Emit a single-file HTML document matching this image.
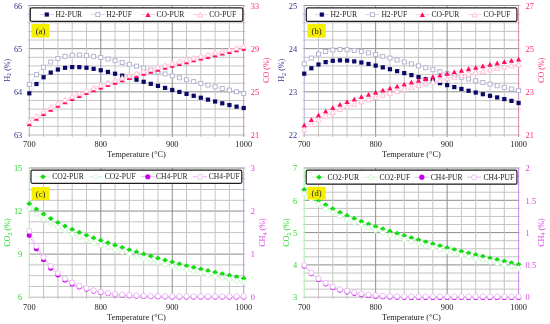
<!DOCTYPE html>
<html><head><meta charset="utf-8"><title>Temperature effect on syngas composition</title>
<style>
html,body{margin:0;padding:0;background:#fff;}
body{width:550px;height:324px;overflow:hidden;}
svg{display:block;filter:blur(0.25px);}
svg text{font-family:'Liberation Serif', 'Times New Roman', serif;}
</style></head>
<body>
<svg width="550" height="324" viewBox="0 0 550 324">
<rect width="550" height="324" fill="#fff"/>
<line x1="29.30" y1="5.50" x2="243.70" y2="5.50" stroke="#8c8c8c" stroke-width="1"/>
<line x1="29.30" y1="14.13" x2="243.70" y2="14.13" stroke="#c4c4c4" stroke-width="1"/>
<line x1="29.30" y1="22.77" x2="243.70" y2="22.77" stroke="#c4c4c4" stroke-width="1"/>
<line x1="29.30" y1="31.40" x2="243.70" y2="31.40" stroke="#c4c4c4" stroke-width="1"/>
<line x1="29.30" y1="40.03" x2="243.70" y2="40.03" stroke="#c4c4c4" stroke-width="1"/>
<line x1="29.30" y1="48.67" x2="243.70" y2="48.67" stroke="#8c8c8c" stroke-width="1"/>
<line x1="29.30" y1="57.30" x2="243.70" y2="57.30" stroke="#c4c4c4" stroke-width="1"/>
<line x1="29.30" y1="65.93" x2="243.70" y2="65.93" stroke="#c4c4c4" stroke-width="1"/>
<line x1="29.30" y1="74.57" x2="243.70" y2="74.57" stroke="#c4c4c4" stroke-width="1"/>
<line x1="29.30" y1="83.20" x2="243.70" y2="83.20" stroke="#c4c4c4" stroke-width="1"/>
<line x1="29.30" y1="91.83" x2="243.70" y2="91.83" stroke="#8c8c8c" stroke-width="1"/>
<line x1="29.30" y1="100.47" x2="243.70" y2="100.47" stroke="#c4c4c4" stroke-width="1"/>
<line x1="29.30" y1="109.10" x2="243.70" y2="109.10" stroke="#c4c4c4" stroke-width="1"/>
<line x1="29.30" y1="117.73" x2="243.70" y2="117.73" stroke="#c4c4c4" stroke-width="1"/>
<line x1="29.30" y1="126.37" x2="243.70" y2="126.37" stroke="#c4c4c4" stroke-width="1"/>
<line x1="43.59" y1="5.50" x2="43.59" y2="137.00" stroke="#c4c4c4" stroke-width="1"/>
<line x1="57.89" y1="5.50" x2="57.89" y2="137.00" stroke="#c4c4c4" stroke-width="1"/>
<line x1="72.18" y1="5.50" x2="72.18" y2="137.00" stroke="#c4c4c4" stroke-width="1"/>
<line x1="86.47" y1="5.50" x2="86.47" y2="137.00" stroke="#c4c4c4" stroke-width="1"/>
<line x1="100.77" y1="5.50" x2="100.77" y2="137.00" stroke="#8c8c8c" stroke-width="1"/>
<line x1="115.06" y1="5.50" x2="115.06" y2="137.00" stroke="#c4c4c4" stroke-width="1"/>
<line x1="129.35" y1="5.50" x2="129.35" y2="137.00" stroke="#c4c4c4" stroke-width="1"/>
<line x1="143.65" y1="5.50" x2="143.65" y2="137.00" stroke="#c4c4c4" stroke-width="1"/>
<line x1="157.94" y1="5.50" x2="157.94" y2="137.00" stroke="#c4c4c4" stroke-width="1"/>
<line x1="172.23" y1="5.50" x2="172.23" y2="137.00" stroke="#8c8c8c" stroke-width="1"/>
<line x1="186.53" y1="5.50" x2="186.53" y2="137.00" stroke="#c4c4c4" stroke-width="1"/>
<line x1="200.82" y1="5.50" x2="200.82" y2="137.00" stroke="#c4c4c4" stroke-width="1"/>
<line x1="215.11" y1="5.50" x2="215.11" y2="137.00" stroke="#c4c4c4" stroke-width="1"/>
<line x1="229.41" y1="5.50" x2="229.41" y2="137.00" stroke="#c4c4c4" stroke-width="1"/>
<line x1="28.80" y1="135.00" x2="244.20" y2="135.00" stroke="#b8b8b8" stroke-width="1"/>
<line x1="29.30" y1="5.00" x2="29.30" y2="137.00" stroke="#acacd2" stroke-width="1"/>
<line x1="243.70" y1="5.00" x2="243.70" y2="137.00" stroke="#d08ca8" stroke-width="1"/>
<line x1="27.30" y1="5.50" x2="29.30" y2="5.50" stroke="#acacd2" stroke-width="0.8" opacity="0.6"/>
<line x1="243.70" y1="5.50" x2="245.70" y2="5.50" stroke="#d08ca8" stroke-width="0.8" opacity="0.6"/>
<line x1="27.30" y1="14.13" x2="29.30" y2="14.13" stroke="#acacd2" stroke-width="0.8" opacity="0.6"/>
<line x1="243.70" y1="14.13" x2="245.70" y2="14.13" stroke="#d08ca8" stroke-width="0.8" opacity="0.6"/>
<line x1="27.30" y1="22.77" x2="29.30" y2="22.77" stroke="#acacd2" stroke-width="0.8" opacity="0.6"/>
<line x1="243.70" y1="22.77" x2="245.70" y2="22.77" stroke="#d08ca8" stroke-width="0.8" opacity="0.6"/>
<line x1="27.30" y1="31.40" x2="29.30" y2="31.40" stroke="#acacd2" stroke-width="0.8" opacity="0.6"/>
<line x1="243.70" y1="31.40" x2="245.70" y2="31.40" stroke="#d08ca8" stroke-width="0.8" opacity="0.6"/>
<line x1="27.30" y1="40.03" x2="29.30" y2="40.03" stroke="#acacd2" stroke-width="0.8" opacity="0.6"/>
<line x1="243.70" y1="40.03" x2="245.70" y2="40.03" stroke="#d08ca8" stroke-width="0.8" opacity="0.6"/>
<line x1="27.30" y1="48.67" x2="29.30" y2="48.67" stroke="#acacd2" stroke-width="0.8" opacity="0.6"/>
<line x1="243.70" y1="48.67" x2="245.70" y2="48.67" stroke="#d08ca8" stroke-width="0.8" opacity="0.6"/>
<line x1="27.30" y1="57.30" x2="29.30" y2="57.30" stroke="#acacd2" stroke-width="0.8" opacity="0.6"/>
<line x1="243.70" y1="57.30" x2="245.70" y2="57.30" stroke="#d08ca8" stroke-width="0.8" opacity="0.6"/>
<line x1="27.30" y1="65.93" x2="29.30" y2="65.93" stroke="#acacd2" stroke-width="0.8" opacity="0.6"/>
<line x1="243.70" y1="65.93" x2="245.70" y2="65.93" stroke="#d08ca8" stroke-width="0.8" opacity="0.6"/>
<line x1="27.30" y1="74.57" x2="29.30" y2="74.57" stroke="#acacd2" stroke-width="0.8" opacity="0.6"/>
<line x1="243.70" y1="74.57" x2="245.70" y2="74.57" stroke="#d08ca8" stroke-width="0.8" opacity="0.6"/>
<line x1="27.30" y1="83.20" x2="29.30" y2="83.20" stroke="#acacd2" stroke-width="0.8" opacity="0.6"/>
<line x1="243.70" y1="83.20" x2="245.70" y2="83.20" stroke="#d08ca8" stroke-width="0.8" opacity="0.6"/>
<line x1="27.30" y1="91.83" x2="29.30" y2="91.83" stroke="#acacd2" stroke-width="0.8" opacity="0.6"/>
<line x1="243.70" y1="91.83" x2="245.70" y2="91.83" stroke="#d08ca8" stroke-width="0.8" opacity="0.6"/>
<line x1="27.30" y1="100.47" x2="29.30" y2="100.47" stroke="#acacd2" stroke-width="0.8" opacity="0.6"/>
<line x1="243.70" y1="100.47" x2="245.70" y2="100.47" stroke="#d08ca8" stroke-width="0.8" opacity="0.6"/>
<line x1="27.30" y1="109.10" x2="29.30" y2="109.10" stroke="#acacd2" stroke-width="0.8" opacity="0.6"/>
<line x1="243.70" y1="109.10" x2="245.70" y2="109.10" stroke="#d08ca8" stroke-width="0.8" opacity="0.6"/>
<line x1="27.30" y1="117.73" x2="29.30" y2="117.73" stroke="#acacd2" stroke-width="0.8" opacity="0.6"/>
<line x1="243.70" y1="117.73" x2="245.70" y2="117.73" stroke="#d08ca8" stroke-width="0.8" opacity="0.6"/>
<line x1="27.30" y1="126.37" x2="29.30" y2="126.37" stroke="#acacd2" stroke-width="0.8" opacity="0.6"/>
<line x1="243.70" y1="126.37" x2="245.70" y2="126.37" stroke="#d08ca8" stroke-width="0.8" opacity="0.6"/>
<line x1="27.30" y1="135.00" x2="29.30" y2="135.00" stroke="#acacd2" stroke-width="0.8" opacity="0.6"/>
<line x1="243.70" y1="135.00" x2="245.70" y2="135.00" stroke="#d08ca8" stroke-width="0.8" opacity="0.6"/>
<polyline points="29.30,93.34 36.45,83.98 43.59,77.24 50.74,72.57 57.89,69.55 65.03,67.82 72.18,67.09 79.33,67.13 86.47,67.76 93.62,68.84 100.77,70.25 107.91,71.90 115.06,73.72 122.21,75.65 129.35,77.66 136.50,79.71 143.65,81.77 150.79,83.84 157.94,85.89 165.09,87.92 172.23,89.93 179.38,91.92 186.53,93.88 193.67,95.82 200.82,97.74 207.97,99.64 215.11,101.50 222.26,103.32 229.41,105.05 236.55,106.64 243.70,108.01" fill="none" stroke="#c8c8ec" stroke-width="0.6"/>
<rect x="27.20" y="91.24" width="4.2" height="4.2" fill="#0a0a66"/>
<rect x="34.35" y="81.88" width="4.2" height="4.2" fill="#0a0a66"/>
<rect x="41.49" y="75.14" width="4.2" height="4.2" fill="#0a0a66"/>
<rect x="48.64" y="70.47" width="4.2" height="4.2" fill="#0a0a66"/>
<rect x="55.79" y="67.45" width="4.2" height="4.2" fill="#0a0a66"/>
<rect x="62.93" y="65.72" width="4.2" height="4.2" fill="#0a0a66"/>
<rect x="70.08" y="64.99" width="4.2" height="4.2" fill="#0a0a66"/>
<rect x="77.23" y="65.03" width="4.2" height="4.2" fill="#0a0a66"/>
<rect x="84.37" y="65.66" width="4.2" height="4.2" fill="#0a0a66"/>
<rect x="91.52" y="66.74" width="4.2" height="4.2" fill="#0a0a66"/>
<rect x="98.67" y="68.15" width="4.2" height="4.2" fill="#0a0a66"/>
<rect x="105.81" y="69.80" width="4.2" height="4.2" fill="#0a0a66"/>
<rect x="112.96" y="71.62" width="4.2" height="4.2" fill="#0a0a66"/>
<rect x="120.11" y="73.55" width="4.2" height="4.2" fill="#0a0a66"/>
<rect x="127.25" y="75.56" width="4.2" height="4.2" fill="#0a0a66"/>
<rect x="134.40" y="77.61" width="4.2" height="4.2" fill="#0a0a66"/>
<rect x="141.55" y="79.67" width="4.2" height="4.2" fill="#0a0a66"/>
<rect x="148.69" y="81.74" width="4.2" height="4.2" fill="#0a0a66"/>
<rect x="155.84" y="83.79" width="4.2" height="4.2" fill="#0a0a66"/>
<rect x="162.99" y="85.82" width="4.2" height="4.2" fill="#0a0a66"/>
<rect x="170.13" y="87.83" width="4.2" height="4.2" fill="#0a0a66"/>
<rect x="177.28" y="89.82" width="4.2" height="4.2" fill="#0a0a66"/>
<rect x="184.43" y="91.78" width="4.2" height="4.2" fill="#0a0a66"/>
<rect x="191.57" y="93.72" width="4.2" height="4.2" fill="#0a0a66"/>
<rect x="198.72" y="95.64" width="4.2" height="4.2" fill="#0a0a66"/>
<rect x="205.87" y="97.54" width="4.2" height="4.2" fill="#0a0a66"/>
<rect x="213.01" y="99.40" width="4.2" height="4.2" fill="#0a0a66"/>
<rect x="220.16" y="101.22" width="4.2" height="4.2" fill="#0a0a66"/>
<rect x="227.31" y="102.95" width="4.2" height="4.2" fill="#0a0a66"/>
<rect x="234.45" y="104.54" width="4.2" height="4.2" fill="#0a0a66"/>
<rect x="241.60" y="105.91" width="4.2" height="4.2" fill="#0a0a66"/>
<polyline points="29.30,84.59 36.45,74.64 43.59,67.25 50.74,61.99 57.89,58.45 65.03,56.29 72.18,55.23 79.33,55.00 86.47,55.42 93.62,56.31 100.77,57.54 107.91,59.02 115.06,60.67 122.21,62.44 129.35,64.27 136.50,66.16 143.65,68.08 150.79,70.01 157.94,71.96 165.09,73.91 172.23,75.86 179.38,77.79 186.53,79.69 193.67,81.56 200.82,83.37 207.97,85.13 215.11,86.82 222.26,88.47 229.41,90.09 236.55,91.75 243.70,93.53" fill="none" stroke="#c8c8ec" stroke-width="0.6"/>
<rect x="27.30" y="82.59" width="4.0" height="4.0" fill="#fff" stroke="#b0b0cc" stroke-width="0.9"/>
<rect x="34.45" y="72.64" width="4.0" height="4.0" fill="#fff" stroke="#b0b0cc" stroke-width="0.9"/>
<rect x="41.59" y="65.25" width="4.0" height="4.0" fill="#fff" stroke="#b0b0cc" stroke-width="0.9"/>
<rect x="48.74" y="59.99" width="4.0" height="4.0" fill="#fff" stroke="#b0b0cc" stroke-width="0.9"/>
<rect x="55.89" y="56.45" width="4.0" height="4.0" fill="#fff" stroke="#b0b0cc" stroke-width="0.9"/>
<rect x="63.03" y="54.29" width="4.0" height="4.0" fill="#fff" stroke="#b0b0cc" stroke-width="0.9"/>
<rect x="70.18" y="53.23" width="4.0" height="4.0" fill="#fff" stroke="#b0b0cc" stroke-width="0.9"/>
<rect x="77.33" y="53.00" width="4.0" height="4.0" fill="#fff" stroke="#b0b0cc" stroke-width="0.9"/>
<rect x="84.47" y="53.42" width="4.0" height="4.0" fill="#fff" stroke="#b0b0cc" stroke-width="0.9"/>
<rect x="91.62" y="54.31" width="4.0" height="4.0" fill="#fff" stroke="#b0b0cc" stroke-width="0.9"/>
<rect x="98.77" y="55.54" width="4.0" height="4.0" fill="#fff" stroke="#b0b0cc" stroke-width="0.9"/>
<rect x="105.91" y="57.02" width="4.0" height="4.0" fill="#fff" stroke="#b0b0cc" stroke-width="0.9"/>
<rect x="113.06" y="58.67" width="4.0" height="4.0" fill="#fff" stroke="#b0b0cc" stroke-width="0.9"/>
<rect x="120.21" y="60.44" width="4.0" height="4.0" fill="#fff" stroke="#b0b0cc" stroke-width="0.9"/>
<rect x="127.35" y="62.27" width="4.0" height="4.0" fill="#fff" stroke="#b0b0cc" stroke-width="0.9"/>
<rect x="134.50" y="64.16" width="4.0" height="4.0" fill="#fff" stroke="#b0b0cc" stroke-width="0.9"/>
<rect x="141.65" y="66.08" width="4.0" height="4.0" fill="#fff" stroke="#b0b0cc" stroke-width="0.9"/>
<rect x="148.79" y="68.01" width="4.0" height="4.0" fill="#fff" stroke="#b0b0cc" stroke-width="0.9"/>
<rect x="155.94" y="69.96" width="4.0" height="4.0" fill="#fff" stroke="#b0b0cc" stroke-width="0.9"/>
<rect x="163.09" y="71.91" width="4.0" height="4.0" fill="#fff" stroke="#b0b0cc" stroke-width="0.9"/>
<rect x="170.23" y="73.86" width="4.0" height="4.0" fill="#fff" stroke="#b0b0cc" stroke-width="0.9"/>
<rect x="177.38" y="75.79" width="4.0" height="4.0" fill="#fff" stroke="#b0b0cc" stroke-width="0.9"/>
<rect x="184.53" y="77.69" width="4.0" height="4.0" fill="#fff" stroke="#b0b0cc" stroke-width="0.9"/>
<rect x="191.67" y="79.56" width="4.0" height="4.0" fill="#fff" stroke="#b0b0cc" stroke-width="0.9"/>
<rect x="198.82" y="81.37" width="4.0" height="4.0" fill="#fff" stroke="#b0b0cc" stroke-width="0.9"/>
<rect x="205.97" y="83.13" width="4.0" height="4.0" fill="#fff" stroke="#b0b0cc" stroke-width="0.9"/>
<rect x="213.11" y="84.82" width="4.0" height="4.0" fill="#fff" stroke="#b0b0cc" stroke-width="0.9"/>
<rect x="220.26" y="86.47" width="4.0" height="4.0" fill="#fff" stroke="#b0b0cc" stroke-width="0.9"/>
<rect x="227.41" y="88.09" width="4.0" height="4.0" fill="#fff" stroke="#b0b0cc" stroke-width="0.9"/>
<rect x="234.55" y="89.75" width="4.0" height="4.0" fill="#fff" stroke="#b0b0cc" stroke-width="0.9"/>
<rect x="241.70" y="91.53" width="4.0" height="4.0" fill="#fff" stroke="#b0b0cc" stroke-width="0.9"/>
<polyline points="29.30,123.57 36.45,118.23 43.59,113.51 50.74,109.27 57.89,105.42 65.03,101.88 72.18,98.59 79.33,95.51 86.47,92.60 93.62,89.84 100.77,87.21 107.91,84.69 115.06,82.27 122.21,79.94 129.35,77.69 136.50,75.51 143.65,73.40 150.79,71.34 157.94,69.33 165.09,67.38 172.23,65.46 179.38,63.59 186.53,61.75 193.67,59.96 200.82,58.20 207.97,56.49 215.11,54.82 222.26,53.18 229.41,51.57 236.55,49.97 243.70,48.35" fill="none" stroke="#ffc0d4" stroke-width="0.6"/>
<polygon points="29.30,121.17 31.90,125.97 26.70,125.97" fill="#ff0a64"/>
<polygon points="36.45,115.83 39.05,120.63 33.85,120.63" fill="#ff0a64"/>
<polygon points="43.59,111.11 46.19,115.91 40.99,115.91" fill="#ff0a64"/>
<polygon points="50.74,106.87 53.34,111.67 48.14,111.67" fill="#ff0a64"/>
<polygon points="57.89,103.02 60.49,107.82 55.29,107.82" fill="#ff0a64"/>
<polygon points="65.03,99.48 67.63,104.28 62.43,104.28" fill="#ff0a64"/>
<polygon points="72.18,96.19 74.78,100.99 69.58,100.99" fill="#ff0a64"/>
<polygon points="79.33,93.11 81.93,97.91 76.73,97.91" fill="#ff0a64"/>
<polygon points="86.47,90.20 89.07,95.00 83.87,95.00" fill="#ff0a64"/>
<polygon points="93.62,87.44 96.22,92.24 91.02,92.24" fill="#ff0a64"/>
<polygon points="100.77,84.81 103.37,89.61 98.17,89.61" fill="#ff0a64"/>
<polygon points="107.91,82.29 110.51,87.09 105.31,87.09" fill="#ff0a64"/>
<polygon points="115.06,79.87 117.66,84.67 112.46,84.67" fill="#ff0a64"/>
<polygon points="122.21,77.54 124.81,82.34 119.61,82.34" fill="#ff0a64"/>
<polygon points="129.35,75.29 131.95,80.09 126.75,80.09" fill="#ff0a64"/>
<polygon points="136.50,73.11 139.10,77.91 133.90,77.91" fill="#ff0a64"/>
<polygon points="143.65,71.00 146.25,75.80 141.05,75.80" fill="#ff0a64"/>
<polygon points="150.79,68.94 153.39,73.74 148.19,73.74" fill="#ff0a64"/>
<polygon points="157.94,66.93 160.54,71.73 155.34,71.73" fill="#ff0a64"/>
<polygon points="165.09,64.98 167.69,69.78 162.49,69.78" fill="#ff0a64"/>
<polygon points="172.23,63.06 174.83,67.86 169.63,67.86" fill="#ff0a64"/>
<polygon points="179.38,61.19 181.98,65.99 176.78,65.99" fill="#ff0a64"/>
<polygon points="186.53,59.35 189.13,64.15 183.93,64.15" fill="#ff0a64"/>
<polygon points="193.67,57.56 196.27,62.36 191.07,62.36" fill="#ff0a64"/>
<polygon points="200.82,55.80 203.42,60.60 198.22,60.60" fill="#ff0a64"/>
<polygon points="207.97,54.09 210.57,58.89 205.37,58.89" fill="#ff0a64"/>
<polygon points="215.11,52.42 217.71,57.22 212.51,57.22" fill="#ff0a64"/>
<polygon points="222.26,50.78 224.86,55.58 219.66,55.58" fill="#ff0a64"/>
<polygon points="229.41,49.17 232.01,53.97 226.81,53.97" fill="#ff0a64"/>
<polygon points="236.55,47.57 239.15,52.37 233.95,52.37" fill="#ff0a64"/>
<polygon points="243.70,45.95 246.30,50.75 241.10,50.75" fill="#ff0a64"/>
<polyline points="29.30,121.37 36.45,116.03 43.59,111.31 50.74,107.07 57.89,103.22 65.03,99.68 72.18,96.39 79.33,93.31 86.47,90.40 93.62,87.64 100.77,85.01 107.91,82.49 115.06,80.07 122.21,77.74 129.35,75.49 136.50,73.31 143.65,71.20 150.79,69.14 157.94,67.13 165.09,65.18 172.23,63.26 179.38,61.39 186.53,59.55 193.67,57.76 200.82,56.00 207.97,54.29 215.11,52.62 222.26,50.98 229.41,49.37 236.55,47.77 243.70,46.15" fill="none" stroke="#ffc0d4" stroke-width="0.6"/>
<polygon points="29.30,118.97 31.90,123.77 26.70,123.77" fill="#fff" stroke="#ffbcd2" stroke-width="0.9"/>
<polygon points="36.45,113.63 39.05,118.43 33.85,118.43" fill="#fff" stroke="#ffbcd2" stroke-width="0.9"/>
<polygon points="43.59,108.91 46.19,113.71 40.99,113.71" fill="#fff" stroke="#ffbcd2" stroke-width="0.9"/>
<polygon points="50.74,104.67 53.34,109.47 48.14,109.47" fill="#fff" stroke="#ffbcd2" stroke-width="0.9"/>
<polygon points="57.89,100.82 60.49,105.62 55.29,105.62" fill="#fff" stroke="#ffbcd2" stroke-width="0.9"/>
<polygon points="65.03,97.28 67.63,102.08 62.43,102.08" fill="#fff" stroke="#ffbcd2" stroke-width="0.9"/>
<polygon points="72.18,93.99 74.78,98.79 69.58,98.79" fill="#fff" stroke="#ffbcd2" stroke-width="0.9"/>
<polygon points="79.33,90.91 81.93,95.71 76.73,95.71" fill="#fff" stroke="#ffbcd2" stroke-width="0.9"/>
<polygon points="86.47,88.00 89.07,92.80 83.87,92.80" fill="#fff" stroke="#ffbcd2" stroke-width="0.9"/>
<polygon points="93.62,85.24 96.22,90.04 91.02,90.04" fill="#fff" stroke="#ffbcd2" stroke-width="0.9"/>
<polygon points="100.77,82.61 103.37,87.41 98.17,87.41" fill="#fff" stroke="#ffbcd2" stroke-width="0.9"/>
<polygon points="107.91,80.09 110.51,84.89 105.31,84.89" fill="#fff" stroke="#ffbcd2" stroke-width="0.9"/>
<polygon points="115.06,77.67 117.66,82.47 112.46,82.47" fill="#fff" stroke="#ffbcd2" stroke-width="0.9"/>
<polygon points="122.21,75.34 124.81,80.14 119.61,80.14" fill="#fff" stroke="#ffbcd2" stroke-width="0.9"/>
<polygon points="129.35,73.09 131.95,77.89 126.75,77.89" fill="#fff" stroke="#ffbcd2" stroke-width="0.9"/>
<polygon points="136.50,70.91 139.10,75.71 133.90,75.71" fill="#fff" stroke="#ffbcd2" stroke-width="0.9"/>
<polygon points="143.65,68.80 146.25,73.60 141.05,73.60" fill="#fff" stroke="#ffbcd2" stroke-width="0.9"/>
<polygon points="150.79,66.74 153.39,71.54 148.19,71.54" fill="#fff" stroke="#ffbcd2" stroke-width="0.9"/>
<polygon points="157.94,64.73 160.54,69.53 155.34,69.53" fill="#fff" stroke="#ffbcd2" stroke-width="0.9"/>
<polygon points="165.09,62.78 167.69,67.58 162.49,67.58" fill="#fff" stroke="#ffbcd2" stroke-width="0.9"/>
<polygon points="172.23,60.86 174.83,65.66 169.63,65.66" fill="#fff" stroke="#ffbcd2" stroke-width="0.9"/>
<polygon points="179.38,58.99 181.98,63.79 176.78,63.79" fill="#fff" stroke="#ffbcd2" stroke-width="0.9"/>
<polygon points="186.53,57.15 189.13,61.95 183.93,61.95" fill="#fff" stroke="#ffbcd2" stroke-width="0.9"/>
<polygon points="193.67,55.36 196.27,60.16 191.07,60.16" fill="#fff" stroke="#ffbcd2" stroke-width="0.9"/>
<polygon points="200.82,53.60 203.42,58.40 198.22,58.40" fill="#fff" stroke="#ffbcd2" stroke-width="0.9"/>
<polygon points="207.97,51.89 210.57,56.69 205.37,56.69" fill="#fff" stroke="#ffbcd2" stroke-width="0.9"/>
<polygon points="215.11,50.22 217.71,55.02 212.51,55.02" fill="#fff" stroke="#ffbcd2" stroke-width="0.9"/>
<polygon points="222.26,48.58 224.86,53.38 219.66,53.38" fill="#fff" stroke="#ffbcd2" stroke-width="0.9"/>
<polygon points="229.41,46.97 232.01,51.77 226.81,51.77" fill="#fff" stroke="#ffbcd2" stroke-width="0.9"/>
<polygon points="236.55,45.37 239.15,50.17 233.95,50.17" fill="#fff" stroke="#ffbcd2" stroke-width="0.9"/>
<polygon points="243.70,43.75 246.30,48.55 241.10,48.55" fill="#fff" stroke="#ffbcd2" stroke-width="0.9"/>
<text x="29.30" y="147.20" text-anchor="middle" fill="#222222" font-size="8.4">700</text>
<text x="100.77" y="147.20" text-anchor="middle" fill="#222222" font-size="8.4">800</text>
<text x="172.23" y="147.20" text-anchor="middle" fill="#222222" font-size="8.4">900</text>
<text x="243.70" y="147.20" text-anchor="middle" fill="#222222" font-size="8.4">1000</text>
<text x="136.50" y="157.00" text-anchor="middle" fill="#222222" font-size="8.4">Temperature (°C)</text>
<text x="22.30" y="138.20" text-anchor="end" fill="#34348f" font-size="8.4">63</text>
<text x="22.30" y="95.03" text-anchor="end" fill="#34348f" font-size="8.4">64</text>
<text x="22.30" y="51.87" text-anchor="end" fill="#34348f" font-size="8.4">65</text>
<text x="22.30" y="8.70" text-anchor="end" fill="#34348f" font-size="8.4">66</text>
<text x="250.70" y="138.20" text-anchor="start" fill="#ff2a78" font-size="8.4">21</text>
<text x="250.70" y="95.03" text-anchor="start" fill="#ff2a78" font-size="8.4">25</text>
<text x="250.70" y="51.87" text-anchor="start" fill="#ff2a78" font-size="8.4">29</text>
<text x="250.70" y="8.70" text-anchor="start" fill="#ff2a78" font-size="8.4">33</text>
<text transform="translate(9.80,70.25) rotate(-90)" text-anchor="middle" fill="#34348f" font-size="8.1">H<tspan font-size="6" dy="1.5">2</tspan><tspan dy="-1.5"> (%)</tspan></text>
<text transform="translate(268.90,70.25) rotate(-90)" text-anchor="middle" fill="#ff2a78" font-size="8.1">CO (%)</text>
<rect x="30.30" y="7.80" width="212.50" height="13.50" rx="1.5" fill="#fff" stroke="#1e1e1e" stroke-width="1.2"/>
<line x1="39.80" y1="14.55" x2="53.80" y2="14.55" stroke="#c8c8ec" stroke-width="0.8"/>
<rect x="44.70" y="12.45" width="4.2" height="4.2" fill="#0a0a66"/>
<text x="55.60" y="17.15" fill="#222222" font-size="7.6">H2-PUR</text>
<line x1="90.80" y1="14.55" x2="104.80" y2="14.55" stroke="#c8c8ec" stroke-width="0.8"/>
<rect x="95.80" y="12.55" width="4.0" height="4.0" fill="#fff" stroke="#b0b0cc" stroke-width="0.9"/>
<text x="106.30" y="17.15" fill="#222222" font-size="7.6">H2-PUF</text>
<line x1="141.00" y1="14.55" x2="155.00" y2="14.55" stroke="#ffc0d4" stroke-width="0.8"/>
<polygon points="148.00,12.15 150.60,16.95 145.40,16.95" fill="#ff0a64"/>
<text x="156.50" y="17.15" fill="#222222" font-size="7.6">CO-PUR</text>
<line x1="193.20" y1="14.55" x2="207.20" y2="14.55" stroke="#ffc0d4" stroke-width="0.8"/>
<polygon points="200.20,12.15 202.80,16.95 197.60,16.95" fill="#fff" stroke="#ffbcd2" stroke-width="0.9"/>
<text x="209.20" y="17.15" fill="#222222" font-size="7.6">CO-PUF</text>
<rect x="31.40" y="24.00" width="18.20" height="13.60" fill="#f6f000"/>
<text x="40.50" y="33.80" text-anchor="middle" fill="#222222" font-size="8.6">(a)</text>
<line x1="304.20" y1="5.50" x2="518.60" y2="5.50" stroke="#8c8c8c" stroke-width="1"/>
<line x1="304.20" y1="14.13" x2="518.60" y2="14.13" stroke="#c4c4c4" stroke-width="1"/>
<line x1="304.20" y1="22.77" x2="518.60" y2="22.77" stroke="#c4c4c4" stroke-width="1"/>
<line x1="304.20" y1="31.40" x2="518.60" y2="31.40" stroke="#c4c4c4" stroke-width="1"/>
<line x1="304.20" y1="40.03" x2="518.60" y2="40.03" stroke="#c4c4c4" stroke-width="1"/>
<line x1="304.20" y1="48.67" x2="518.60" y2="48.67" stroke="#8c8c8c" stroke-width="1"/>
<line x1="304.20" y1="57.30" x2="518.60" y2="57.30" stroke="#c4c4c4" stroke-width="1"/>
<line x1="304.20" y1="65.93" x2="518.60" y2="65.93" stroke="#c4c4c4" stroke-width="1"/>
<line x1="304.20" y1="74.57" x2="518.60" y2="74.57" stroke="#c4c4c4" stroke-width="1"/>
<line x1="304.20" y1="83.20" x2="518.60" y2="83.20" stroke="#c4c4c4" stroke-width="1"/>
<line x1="304.20" y1="91.83" x2="518.60" y2="91.83" stroke="#8c8c8c" stroke-width="1"/>
<line x1="304.20" y1="100.47" x2="518.60" y2="100.47" stroke="#c4c4c4" stroke-width="1"/>
<line x1="304.20" y1="109.10" x2="518.60" y2="109.10" stroke="#c4c4c4" stroke-width="1"/>
<line x1="304.20" y1="117.73" x2="518.60" y2="117.73" stroke="#c4c4c4" stroke-width="1"/>
<line x1="304.20" y1="126.37" x2="518.60" y2="126.37" stroke="#c4c4c4" stroke-width="1"/>
<line x1="318.49" y1="5.50" x2="318.49" y2="137.00" stroke="#c4c4c4" stroke-width="1"/>
<line x1="332.79" y1="5.50" x2="332.79" y2="137.00" stroke="#c4c4c4" stroke-width="1"/>
<line x1="347.08" y1="5.50" x2="347.08" y2="137.00" stroke="#c4c4c4" stroke-width="1"/>
<line x1="361.37" y1="5.50" x2="361.37" y2="137.00" stroke="#c4c4c4" stroke-width="1"/>
<line x1="375.67" y1="5.50" x2="375.67" y2="137.00" stroke="#8c8c8c" stroke-width="1"/>
<line x1="389.96" y1="5.50" x2="389.96" y2="137.00" stroke="#c4c4c4" stroke-width="1"/>
<line x1="404.25" y1="5.50" x2="404.25" y2="137.00" stroke="#c4c4c4" stroke-width="1"/>
<line x1="418.55" y1="5.50" x2="418.55" y2="137.00" stroke="#c4c4c4" stroke-width="1"/>
<line x1="432.84" y1="5.50" x2="432.84" y2="137.00" stroke="#c4c4c4" stroke-width="1"/>
<line x1="447.13" y1="5.50" x2="447.13" y2="137.00" stroke="#8c8c8c" stroke-width="1"/>
<line x1="461.43" y1="5.50" x2="461.43" y2="137.00" stroke="#c4c4c4" stroke-width="1"/>
<line x1="475.72" y1="5.50" x2="475.72" y2="137.00" stroke="#c4c4c4" stroke-width="1"/>
<line x1="490.01" y1="5.50" x2="490.01" y2="137.00" stroke="#c4c4c4" stroke-width="1"/>
<line x1="504.31" y1="5.50" x2="504.31" y2="137.00" stroke="#c4c4c4" stroke-width="1"/>
<line x1="303.70" y1="135.00" x2="519.10" y2="135.00" stroke="#b8b8b8" stroke-width="1"/>
<line x1="304.20" y1="5.00" x2="304.20" y2="137.00" stroke="#acacd2" stroke-width="1"/>
<line x1="518.60" y1="5.00" x2="518.60" y2="137.00" stroke="#d08ca8" stroke-width="1"/>
<line x1="302.20" y1="5.50" x2="304.20" y2="5.50" stroke="#acacd2" stroke-width="0.8" opacity="0.6"/>
<line x1="518.60" y1="5.50" x2="520.60" y2="5.50" stroke="#d08ca8" stroke-width="0.8" opacity="0.6"/>
<line x1="302.20" y1="14.13" x2="304.20" y2="14.13" stroke="#acacd2" stroke-width="0.8" opacity="0.6"/>
<line x1="518.60" y1="14.13" x2="520.60" y2="14.13" stroke="#d08ca8" stroke-width="0.8" opacity="0.6"/>
<line x1="302.20" y1="22.77" x2="304.20" y2="22.77" stroke="#acacd2" stroke-width="0.8" opacity="0.6"/>
<line x1="518.60" y1="22.77" x2="520.60" y2="22.77" stroke="#d08ca8" stroke-width="0.8" opacity="0.6"/>
<line x1="302.20" y1="31.40" x2="304.20" y2="31.40" stroke="#acacd2" stroke-width="0.8" opacity="0.6"/>
<line x1="518.60" y1="31.40" x2="520.60" y2="31.40" stroke="#d08ca8" stroke-width="0.8" opacity="0.6"/>
<line x1="302.20" y1="40.03" x2="304.20" y2="40.03" stroke="#acacd2" stroke-width="0.8" opacity="0.6"/>
<line x1="518.60" y1="40.03" x2="520.60" y2="40.03" stroke="#d08ca8" stroke-width="0.8" opacity="0.6"/>
<line x1="302.20" y1="48.67" x2="304.20" y2="48.67" stroke="#acacd2" stroke-width="0.8" opacity="0.6"/>
<line x1="518.60" y1="48.67" x2="520.60" y2="48.67" stroke="#d08ca8" stroke-width="0.8" opacity="0.6"/>
<line x1="302.20" y1="57.30" x2="304.20" y2="57.30" stroke="#acacd2" stroke-width="0.8" opacity="0.6"/>
<line x1="518.60" y1="57.30" x2="520.60" y2="57.30" stroke="#d08ca8" stroke-width="0.8" opacity="0.6"/>
<line x1="302.20" y1="65.93" x2="304.20" y2="65.93" stroke="#acacd2" stroke-width="0.8" opacity="0.6"/>
<line x1="518.60" y1="65.93" x2="520.60" y2="65.93" stroke="#d08ca8" stroke-width="0.8" opacity="0.6"/>
<line x1="302.20" y1="74.57" x2="304.20" y2="74.57" stroke="#acacd2" stroke-width="0.8" opacity="0.6"/>
<line x1="518.60" y1="74.57" x2="520.60" y2="74.57" stroke="#d08ca8" stroke-width="0.8" opacity="0.6"/>
<line x1="302.20" y1="83.20" x2="304.20" y2="83.20" stroke="#acacd2" stroke-width="0.8" opacity="0.6"/>
<line x1="518.60" y1="83.20" x2="520.60" y2="83.20" stroke="#d08ca8" stroke-width="0.8" opacity="0.6"/>
<line x1="302.20" y1="91.83" x2="304.20" y2="91.83" stroke="#acacd2" stroke-width="0.8" opacity="0.6"/>
<line x1="518.60" y1="91.83" x2="520.60" y2="91.83" stroke="#d08ca8" stroke-width="0.8" opacity="0.6"/>
<line x1="302.20" y1="100.47" x2="304.20" y2="100.47" stroke="#acacd2" stroke-width="0.8" opacity="0.6"/>
<line x1="518.60" y1="100.47" x2="520.60" y2="100.47" stroke="#d08ca8" stroke-width="0.8" opacity="0.6"/>
<line x1="302.20" y1="109.10" x2="304.20" y2="109.10" stroke="#acacd2" stroke-width="0.8" opacity="0.6"/>
<line x1="518.60" y1="109.10" x2="520.60" y2="109.10" stroke="#d08ca8" stroke-width="0.8" opacity="0.6"/>
<line x1="302.20" y1="117.73" x2="304.20" y2="117.73" stroke="#acacd2" stroke-width="0.8" opacity="0.6"/>
<line x1="518.60" y1="117.73" x2="520.60" y2="117.73" stroke="#d08ca8" stroke-width="0.8" opacity="0.6"/>
<line x1="302.20" y1="126.37" x2="304.20" y2="126.37" stroke="#acacd2" stroke-width="0.8" opacity="0.6"/>
<line x1="518.60" y1="126.37" x2="520.60" y2="126.37" stroke="#d08ca8" stroke-width="0.8" opacity="0.6"/>
<line x1="302.20" y1="135.00" x2="304.20" y2="135.00" stroke="#acacd2" stroke-width="0.8" opacity="0.6"/>
<line x1="518.60" y1="135.00" x2="520.60" y2="135.00" stroke="#d08ca8" stroke-width="0.8" opacity="0.6"/>
<polyline points="304.20,73.66 311.35,68.26 318.49,64.50 325.64,62.10 332.79,60.79 339.93,60.35 347.08,60.60 354.23,61.36 361.37,62.51 368.52,63.95 375.67,65.58 382.81,67.36 389.96,69.22 397.11,71.15 404.25,73.11 411.40,75.10 418.55,77.11 425.69,79.12 432.84,81.14 439.99,83.14 447.13,85.12 454.28,87.06 461.43,88.95 468.57,90.77 475.72,92.52 482.87,94.20 490.01,95.82 497.16,97.42 504.31,99.08 511.45,100.89 518.60,103.04" fill="none" stroke="#c8c8ec" stroke-width="0.6"/>
<rect x="302.10" y="71.56" width="4.2" height="4.2" fill="#0a0a66"/>
<rect x="309.25" y="66.16" width="4.2" height="4.2" fill="#0a0a66"/>
<rect x="316.39" y="62.40" width="4.2" height="4.2" fill="#0a0a66"/>
<rect x="323.54" y="60.00" width="4.2" height="4.2" fill="#0a0a66"/>
<rect x="330.69" y="58.69" width="4.2" height="4.2" fill="#0a0a66"/>
<rect x="337.83" y="58.25" width="4.2" height="4.2" fill="#0a0a66"/>
<rect x="344.98" y="58.50" width="4.2" height="4.2" fill="#0a0a66"/>
<rect x="352.13" y="59.26" width="4.2" height="4.2" fill="#0a0a66"/>
<rect x="359.27" y="60.41" width="4.2" height="4.2" fill="#0a0a66"/>
<rect x="366.42" y="61.85" width="4.2" height="4.2" fill="#0a0a66"/>
<rect x="373.57" y="63.48" width="4.2" height="4.2" fill="#0a0a66"/>
<rect x="380.71" y="65.26" width="4.2" height="4.2" fill="#0a0a66"/>
<rect x="387.86" y="67.12" width="4.2" height="4.2" fill="#0a0a66"/>
<rect x="395.01" y="69.05" width="4.2" height="4.2" fill="#0a0a66"/>
<rect x="402.15" y="71.01" width="4.2" height="4.2" fill="#0a0a66"/>
<rect x="409.30" y="73.00" width="4.2" height="4.2" fill="#0a0a66"/>
<rect x="416.45" y="75.01" width="4.2" height="4.2" fill="#0a0a66"/>
<rect x="423.59" y="77.02" width="4.2" height="4.2" fill="#0a0a66"/>
<rect x="430.74" y="79.04" width="4.2" height="4.2" fill="#0a0a66"/>
<rect x="437.89" y="81.04" width="4.2" height="4.2" fill="#0a0a66"/>
<rect x="445.03" y="83.02" width="4.2" height="4.2" fill="#0a0a66"/>
<rect x="452.18" y="84.96" width="4.2" height="4.2" fill="#0a0a66"/>
<rect x="459.33" y="86.85" width="4.2" height="4.2" fill="#0a0a66"/>
<rect x="466.47" y="88.67" width="4.2" height="4.2" fill="#0a0a66"/>
<rect x="473.62" y="90.42" width="4.2" height="4.2" fill="#0a0a66"/>
<rect x="480.77" y="92.10" width="4.2" height="4.2" fill="#0a0a66"/>
<rect x="487.91" y="93.72" width="4.2" height="4.2" fill="#0a0a66"/>
<rect x="495.06" y="95.32" width="4.2" height="4.2" fill="#0a0a66"/>
<rect x="502.21" y="96.98" width="4.2" height="4.2" fill="#0a0a66"/>
<rect x="509.35" y="98.79" width="4.2" height="4.2" fill="#0a0a66"/>
<rect x="516.50" y="100.94" width="4.2" height="4.2" fill="#0a0a66"/>
<polyline points="304.20,63.87 311.35,58.07 318.49,54.06 325.64,51.49 332.79,50.06 339.93,49.54 347.08,49.71 354.23,50.41 361.37,51.51 368.52,52.90 375.67,54.50 382.81,56.24 389.96,58.08 397.11,59.98 404.25,61.92 411.40,63.87 418.55,65.83 425.69,67.78 432.84,69.73 439.99,71.65 447.13,73.56 454.28,75.43 461.43,77.27 468.57,79.06 475.72,80.80 482.87,82.50 490.01,84.15 497.16,85.76 504.31,87.36 511.45,88.97 518.60,90.64" fill="none" stroke="#c8c8ec" stroke-width="0.6"/>
<rect x="302.20" y="61.87" width="4.0" height="4.0" fill="#fff" stroke="#b0b0cc" stroke-width="0.9"/>
<rect x="309.35" y="56.07" width="4.0" height="4.0" fill="#fff" stroke="#b0b0cc" stroke-width="0.9"/>
<rect x="316.49" y="52.06" width="4.0" height="4.0" fill="#fff" stroke="#b0b0cc" stroke-width="0.9"/>
<rect x="323.64" y="49.49" width="4.0" height="4.0" fill="#fff" stroke="#b0b0cc" stroke-width="0.9"/>
<rect x="330.79" y="48.06" width="4.0" height="4.0" fill="#fff" stroke="#b0b0cc" stroke-width="0.9"/>
<rect x="337.93" y="47.54" width="4.0" height="4.0" fill="#fff" stroke="#b0b0cc" stroke-width="0.9"/>
<rect x="345.08" y="47.71" width="4.0" height="4.0" fill="#fff" stroke="#b0b0cc" stroke-width="0.9"/>
<rect x="352.23" y="48.41" width="4.0" height="4.0" fill="#fff" stroke="#b0b0cc" stroke-width="0.9"/>
<rect x="359.37" y="49.51" width="4.0" height="4.0" fill="#fff" stroke="#b0b0cc" stroke-width="0.9"/>
<rect x="366.52" y="50.90" width="4.0" height="4.0" fill="#fff" stroke="#b0b0cc" stroke-width="0.9"/>
<rect x="373.67" y="52.50" width="4.0" height="4.0" fill="#fff" stroke="#b0b0cc" stroke-width="0.9"/>
<rect x="380.81" y="54.24" width="4.0" height="4.0" fill="#fff" stroke="#b0b0cc" stroke-width="0.9"/>
<rect x="387.96" y="56.08" width="4.0" height="4.0" fill="#fff" stroke="#b0b0cc" stroke-width="0.9"/>
<rect x="395.11" y="57.98" width="4.0" height="4.0" fill="#fff" stroke="#b0b0cc" stroke-width="0.9"/>
<rect x="402.25" y="59.92" width="4.0" height="4.0" fill="#fff" stroke="#b0b0cc" stroke-width="0.9"/>
<rect x="409.40" y="61.87" width="4.0" height="4.0" fill="#fff" stroke="#b0b0cc" stroke-width="0.9"/>
<rect x="416.55" y="63.83" width="4.0" height="4.0" fill="#fff" stroke="#b0b0cc" stroke-width="0.9"/>
<rect x="423.69" y="65.78" width="4.0" height="4.0" fill="#fff" stroke="#b0b0cc" stroke-width="0.9"/>
<rect x="430.84" y="67.73" width="4.0" height="4.0" fill="#fff" stroke="#b0b0cc" stroke-width="0.9"/>
<rect x="437.99" y="69.65" width="4.0" height="4.0" fill="#fff" stroke="#b0b0cc" stroke-width="0.9"/>
<rect x="445.13" y="71.56" width="4.0" height="4.0" fill="#fff" stroke="#b0b0cc" stroke-width="0.9"/>
<rect x="452.28" y="73.43" width="4.0" height="4.0" fill="#fff" stroke="#b0b0cc" stroke-width="0.9"/>
<rect x="459.43" y="75.27" width="4.0" height="4.0" fill="#fff" stroke="#b0b0cc" stroke-width="0.9"/>
<rect x="466.57" y="77.06" width="4.0" height="4.0" fill="#fff" stroke="#b0b0cc" stroke-width="0.9"/>
<rect x="473.72" y="78.80" width="4.0" height="4.0" fill="#fff" stroke="#b0b0cc" stroke-width="0.9"/>
<rect x="480.87" y="80.50" width="4.0" height="4.0" fill="#fff" stroke="#b0b0cc" stroke-width="0.9"/>
<rect x="488.01" y="82.15" width="4.0" height="4.0" fill="#fff" stroke="#b0b0cc" stroke-width="0.9"/>
<rect x="495.16" y="83.76" width="4.0" height="4.0" fill="#fff" stroke="#b0b0cc" stroke-width="0.9"/>
<rect x="502.31" y="85.36" width="4.0" height="4.0" fill="#fff" stroke="#b0b0cc" stroke-width="0.9"/>
<rect x="509.45" y="86.97" width="4.0" height="4.0" fill="#fff" stroke="#b0b0cc" stroke-width="0.9"/>
<rect x="516.60" y="88.64" width="4.0" height="4.0" fill="#fff" stroke="#b0b0cc" stroke-width="0.9"/>
<polyline points="304.20,124.99 311.35,119.62 318.49,115.02 325.64,111.04 332.79,107.56 339.93,104.47 347.08,101.67 354.23,99.11 361.37,96.71 368.52,94.43 375.67,92.24 382.81,90.12 389.96,88.06 397.11,86.04 404.25,84.08 411.40,82.16 418.55,80.29 425.69,78.48 432.84,76.72 439.99,75.03 447.13,73.39 454.28,71.81 461.43,70.27 468.57,68.77 475.72,67.30 482.87,65.85 490.01,64.42 497.16,63.01 504.31,61.62 511.45,60.29 518.60,59.05" fill="none" stroke="#ffc0d4" stroke-width="0.6"/>
<polygon points="304.20,122.59 306.80,127.39 301.60,127.39" fill="#ff0a64"/>
<polygon points="311.35,117.22 313.95,122.02 308.75,122.02" fill="#ff0a64"/>
<polygon points="318.49,112.62 321.09,117.42 315.89,117.42" fill="#ff0a64"/>
<polygon points="325.64,108.64 328.24,113.44 323.04,113.44" fill="#ff0a64"/>
<polygon points="332.79,105.16 335.39,109.96 330.19,109.96" fill="#ff0a64"/>
<polygon points="339.93,102.07 342.53,106.87 337.33,106.87" fill="#ff0a64"/>
<polygon points="347.08,99.27 349.68,104.07 344.48,104.07" fill="#ff0a64"/>
<polygon points="354.23,96.71 356.83,101.51 351.63,101.51" fill="#ff0a64"/>
<polygon points="361.37,94.31 363.97,99.11 358.77,99.11" fill="#ff0a64"/>
<polygon points="368.52,92.03 371.12,96.83 365.92,96.83" fill="#ff0a64"/>
<polygon points="375.67,89.84 378.27,94.64 373.07,94.64" fill="#ff0a64"/>
<polygon points="382.81,87.72 385.41,92.52 380.21,92.52" fill="#ff0a64"/>
<polygon points="389.96,85.66 392.56,90.46 387.36,90.46" fill="#ff0a64"/>
<polygon points="397.11,83.64 399.71,88.44 394.51,88.44" fill="#ff0a64"/>
<polygon points="404.25,81.68 406.85,86.48 401.65,86.48" fill="#ff0a64"/>
<polygon points="411.40,79.76 414.00,84.56 408.80,84.56" fill="#ff0a64"/>
<polygon points="418.55,77.89 421.15,82.69 415.95,82.69" fill="#ff0a64"/>
<polygon points="425.69,76.08 428.29,80.88 423.09,80.88" fill="#ff0a64"/>
<polygon points="432.84,74.32 435.44,79.12 430.24,79.12" fill="#ff0a64"/>
<polygon points="439.99,72.63 442.59,77.43 437.39,77.43" fill="#ff0a64"/>
<polygon points="447.13,70.99 449.73,75.79 444.53,75.79" fill="#ff0a64"/>
<polygon points="454.28,69.41 456.88,74.21 451.68,74.21" fill="#ff0a64"/>
<polygon points="461.43,67.87 464.03,72.67 458.83,72.67" fill="#ff0a64"/>
<polygon points="468.57,66.37 471.17,71.17 465.97,71.17" fill="#ff0a64"/>
<polygon points="475.72,64.90 478.32,69.70 473.12,69.70" fill="#ff0a64"/>
<polygon points="482.87,63.45 485.47,68.25 480.27,68.25" fill="#ff0a64"/>
<polygon points="490.01,62.02 492.61,66.82 487.41,66.82" fill="#ff0a64"/>
<polygon points="497.16,60.61 499.76,65.41 494.56,65.41" fill="#ff0a64"/>
<polygon points="504.31,59.22 506.91,64.02 501.71,64.02" fill="#ff0a64"/>
<polygon points="511.45,57.89 514.05,62.69 508.85,62.69" fill="#ff0a64"/>
<polygon points="518.60,56.65 521.20,61.45 516.00,61.45" fill="#ff0a64"/>
<polyline points="304.20,129.59 311.35,124.24 318.49,119.66 325.64,115.70 332.79,112.24 339.93,109.17 347.08,106.39 354.23,103.85 361.37,101.47 368.52,99.21 375.67,97.04 382.81,94.94 389.96,92.90 397.11,90.90 404.25,88.96 411.40,87.06 418.55,85.21 425.69,83.42 432.84,81.68 439.99,80.01 447.13,78.39 454.28,76.83 461.43,75.31 468.57,73.83 475.72,72.38 482.87,70.95 490.01,69.54 497.16,68.15 504.31,66.78 511.45,65.47 518.60,64.25" fill="none" stroke="#ffc0d4" stroke-width="0.6"/>
<polygon points="304.20,127.19 306.80,131.99 301.60,131.99" fill="#fff" stroke="#ffbcd2" stroke-width="0.9"/>
<polygon points="311.35,121.84 313.95,126.64 308.75,126.64" fill="#fff" stroke="#ffbcd2" stroke-width="0.9"/>
<polygon points="318.49,117.26 321.09,122.06 315.89,122.06" fill="#fff" stroke="#ffbcd2" stroke-width="0.9"/>
<polygon points="325.64,113.30 328.24,118.10 323.04,118.10" fill="#fff" stroke="#ffbcd2" stroke-width="0.9"/>
<polygon points="332.79,109.84 335.39,114.64 330.19,114.64" fill="#fff" stroke="#ffbcd2" stroke-width="0.9"/>
<polygon points="339.93,106.77 342.53,111.57 337.33,111.57" fill="#fff" stroke="#ffbcd2" stroke-width="0.9"/>
<polygon points="347.08,103.99 349.68,108.79 344.48,108.79" fill="#fff" stroke="#ffbcd2" stroke-width="0.9"/>
<polygon points="354.23,101.45 356.83,106.25 351.63,106.25" fill="#fff" stroke="#ffbcd2" stroke-width="0.9"/>
<polygon points="361.37,99.07 363.97,103.87 358.77,103.87" fill="#fff" stroke="#ffbcd2" stroke-width="0.9"/>
<polygon points="368.52,96.81 371.12,101.61 365.92,101.61" fill="#fff" stroke="#ffbcd2" stroke-width="0.9"/>
<polygon points="375.67,94.64 378.27,99.44 373.07,99.44" fill="#fff" stroke="#ffbcd2" stroke-width="0.9"/>
<polygon points="382.81,92.54 385.41,97.34 380.21,97.34" fill="#fff" stroke="#ffbcd2" stroke-width="0.9"/>
<polygon points="389.96,90.50 392.56,95.30 387.36,95.30" fill="#fff" stroke="#ffbcd2" stroke-width="0.9"/>
<polygon points="397.11,88.50 399.71,93.30 394.51,93.30" fill="#fff" stroke="#ffbcd2" stroke-width="0.9"/>
<polygon points="404.25,86.56 406.85,91.36 401.65,91.36" fill="#fff" stroke="#ffbcd2" stroke-width="0.9"/>
<polygon points="411.40,84.66 414.00,89.46 408.80,89.46" fill="#fff" stroke="#ffbcd2" stroke-width="0.9"/>
<polygon points="418.55,82.81 421.15,87.61 415.95,87.61" fill="#fff" stroke="#ffbcd2" stroke-width="0.9"/>
<polygon points="425.69,81.02 428.29,85.82 423.09,85.82" fill="#fff" stroke="#ffbcd2" stroke-width="0.9"/>
<polygon points="432.84,79.28 435.44,84.08 430.24,84.08" fill="#fff" stroke="#ffbcd2" stroke-width="0.9"/>
<polygon points="439.99,77.61 442.59,82.41 437.39,82.41" fill="#fff" stroke="#ffbcd2" stroke-width="0.9"/>
<polygon points="447.13,75.99 449.73,80.79 444.53,80.79" fill="#fff" stroke="#ffbcd2" stroke-width="0.9"/>
<polygon points="454.28,74.43 456.88,79.23 451.68,79.23" fill="#fff" stroke="#ffbcd2" stroke-width="0.9"/>
<polygon points="461.43,72.91 464.03,77.71 458.83,77.71" fill="#fff" stroke="#ffbcd2" stroke-width="0.9"/>
<polygon points="468.57,71.43 471.17,76.23 465.97,76.23" fill="#fff" stroke="#ffbcd2" stroke-width="0.9"/>
<polygon points="475.72,69.98 478.32,74.78 473.12,74.78" fill="#fff" stroke="#ffbcd2" stroke-width="0.9"/>
<polygon points="482.87,68.55 485.47,73.35 480.27,73.35" fill="#fff" stroke="#ffbcd2" stroke-width="0.9"/>
<polygon points="490.01,67.14 492.61,71.94 487.41,71.94" fill="#fff" stroke="#ffbcd2" stroke-width="0.9"/>
<polygon points="497.16,65.75 499.76,70.55 494.56,70.55" fill="#fff" stroke="#ffbcd2" stroke-width="0.9"/>
<polygon points="504.31,64.38 506.91,69.18 501.71,69.18" fill="#fff" stroke="#ffbcd2" stroke-width="0.9"/>
<polygon points="511.45,63.07 514.05,67.87 508.85,67.87" fill="#fff" stroke="#ffbcd2" stroke-width="0.9"/>
<polygon points="518.60,61.85 521.20,66.65 516.00,66.65" fill="#fff" stroke="#ffbcd2" stroke-width="0.9"/>
<text x="304.20" y="147.20" text-anchor="middle" fill="#222222" font-size="8.4">700</text>
<text x="375.67" y="147.20" text-anchor="middle" fill="#222222" font-size="8.4">800</text>
<text x="447.13" y="147.20" text-anchor="middle" fill="#222222" font-size="8.4">900</text>
<text x="518.60" y="147.20" text-anchor="middle" fill="#222222" font-size="8.4">1000</text>
<text x="411.40" y="157.00" text-anchor="middle" fill="#222222" font-size="8.4">Temperature (°C)</text>
<text x="297.20" y="138.20" text-anchor="end" fill="#34348f" font-size="8.4">22</text>
<text x="297.20" y="95.03" text-anchor="end" fill="#34348f" font-size="8.4">23</text>
<text x="297.20" y="51.87" text-anchor="end" fill="#34348f" font-size="8.4">24</text>
<text x="297.20" y="8.70" text-anchor="end" fill="#34348f" font-size="8.4">25</text>
<text x="525.60" y="138.20" text-anchor="start" fill="#ff2a78" font-size="8.4">21</text>
<text x="525.60" y="95.03" text-anchor="start" fill="#ff2a78" font-size="8.4">23</text>
<text x="525.60" y="51.87" text-anchor="start" fill="#ff2a78" font-size="8.4">25</text>
<text x="525.60" y="8.70" text-anchor="start" fill="#ff2a78" font-size="8.4">27</text>
<text transform="translate(284.40,70.25) rotate(-90)" text-anchor="middle" fill="#34348f" font-size="8.1">H<tspan font-size="6" dy="1.5">2</tspan><tspan dy="-1.5"> (%)</tspan></text>
<text transform="translate(543.70,70.25) rotate(-90)" text-anchor="middle" fill="#ff2a78" font-size="8.1">CO (%)</text>
<rect x="306.30" y="7.80" width="210.60" height="13.60" rx="1.5" fill="#fff" stroke="#1e1e1e" stroke-width="1.2"/>
<line x1="314.80" y1="14.60" x2="328.80" y2="14.60" stroke="#c8c8ec" stroke-width="0.8"/>
<rect x="319.70" y="12.50" width="4.2" height="4.2" fill="#0a0a66"/>
<text x="330.40" y="17.20" fill="#222222" font-size="7.6">H2-PUR</text>
<line x1="365.40" y1="14.60" x2="379.40" y2="14.60" stroke="#c8c8ec" stroke-width="0.8"/>
<rect x="370.40" y="12.60" width="4.0" height="4.0" fill="#fff" stroke="#b0b0cc" stroke-width="0.9"/>
<text x="381.40" y="17.20" fill="#222222" font-size="7.6">H2-PUF</text>
<line x1="415.40" y1="14.60" x2="429.40" y2="14.60" stroke="#ffc0d4" stroke-width="0.8"/>
<polygon points="422.40,12.20 425.00,17.00 419.80,17.00" fill="#ff0a64"/>
<text x="431.40" y="17.20" fill="#222222" font-size="7.6">CO-PUR</text>
<line x1="467.60" y1="14.60" x2="481.60" y2="14.60" stroke="#ffc0d4" stroke-width="0.8"/>
<polygon points="474.60,12.20 477.20,17.00 472.00,17.00" fill="#fff" stroke="#ffbcd2" stroke-width="0.9"/>
<text x="483.40" y="17.20" fill="#222222" font-size="7.6">CO-PUF</text>
<rect x="307.40" y="24.00" width="18.30" height="13.60" fill="#f6f000"/>
<text x="316.55" y="33.80" text-anchor="middle" fill="#222222" font-size="8.6">(b)</text>
<line x1="29.30" y1="168.00" x2="243.70" y2="168.00" stroke="#8c8c8c" stroke-width="1"/>
<line x1="29.30" y1="178.77" x2="243.70" y2="178.77" stroke="#c4c4c4" stroke-width="1"/>
<line x1="29.30" y1="189.53" x2="243.70" y2="189.53" stroke="#c4c4c4" stroke-width="1"/>
<line x1="29.30" y1="200.30" x2="243.70" y2="200.30" stroke="#c4c4c4" stroke-width="1"/>
<line x1="29.30" y1="211.07" x2="243.70" y2="211.07" stroke="#8c8c8c" stroke-width="1"/>
<line x1="29.30" y1="221.83" x2="243.70" y2="221.83" stroke="#c4c4c4" stroke-width="1"/>
<line x1="29.30" y1="232.60" x2="243.70" y2="232.60" stroke="#c4c4c4" stroke-width="1"/>
<line x1="29.30" y1="243.37" x2="243.70" y2="243.37" stroke="#c4c4c4" stroke-width="1"/>
<line x1="29.30" y1="254.13" x2="243.70" y2="254.13" stroke="#8c8c8c" stroke-width="1"/>
<line x1="29.30" y1="264.90" x2="243.70" y2="264.90" stroke="#c4c4c4" stroke-width="1"/>
<line x1="29.30" y1="275.67" x2="243.70" y2="275.67" stroke="#c4c4c4" stroke-width="1"/>
<line x1="29.30" y1="286.43" x2="243.70" y2="286.43" stroke="#c4c4c4" stroke-width="1"/>
<line x1="43.59" y1="168.00" x2="43.59" y2="299.20" stroke="#c4c4c4" stroke-width="1"/>
<line x1="57.89" y1="168.00" x2="57.89" y2="299.20" stroke="#c4c4c4" stroke-width="1"/>
<line x1="72.18" y1="168.00" x2="72.18" y2="299.20" stroke="#c4c4c4" stroke-width="1"/>
<line x1="86.47" y1="168.00" x2="86.47" y2="299.20" stroke="#c4c4c4" stroke-width="1"/>
<line x1="100.77" y1="168.00" x2="100.77" y2="299.20" stroke="#8c8c8c" stroke-width="1"/>
<line x1="115.06" y1="168.00" x2="115.06" y2="299.20" stroke="#c4c4c4" stroke-width="1"/>
<line x1="129.35" y1="168.00" x2="129.35" y2="299.20" stroke="#c4c4c4" stroke-width="1"/>
<line x1="143.65" y1="168.00" x2="143.65" y2="299.20" stroke="#c4c4c4" stroke-width="1"/>
<line x1="157.94" y1="168.00" x2="157.94" y2="299.20" stroke="#c4c4c4" stroke-width="1"/>
<line x1="172.23" y1="168.00" x2="172.23" y2="299.20" stroke="#8c8c8c" stroke-width="1"/>
<line x1="186.53" y1="168.00" x2="186.53" y2="299.20" stroke="#c4c4c4" stroke-width="1"/>
<line x1="200.82" y1="168.00" x2="200.82" y2="299.20" stroke="#c4c4c4" stroke-width="1"/>
<line x1="215.11" y1="168.00" x2="215.11" y2="299.20" stroke="#c4c4c4" stroke-width="1"/>
<line x1="229.41" y1="168.00" x2="229.41" y2="299.20" stroke="#c4c4c4" stroke-width="1"/>
<line x1="28.80" y1="297.20" x2="244.20" y2="297.20" stroke="#b8b8b8" stroke-width="1"/>
<line x1="29.30" y1="167.50" x2="29.30" y2="299.20" stroke="#aeeaae" stroke-width="1"/>
<line x1="243.70" y1="167.50" x2="243.70" y2="299.20" stroke="#c888e4" stroke-width="1"/>
<line x1="27.30" y1="168.00" x2="29.30" y2="168.00" stroke="#aeeaae" stroke-width="0.8" opacity="0.6"/>
<line x1="243.70" y1="168.00" x2="245.70" y2="168.00" stroke="#c888e4" stroke-width="0.8" opacity="0.6"/>
<line x1="27.30" y1="178.77" x2="29.30" y2="178.77" stroke="#aeeaae" stroke-width="0.8" opacity="0.6"/>
<line x1="243.70" y1="178.77" x2="245.70" y2="178.77" stroke="#c888e4" stroke-width="0.8" opacity="0.6"/>
<line x1="27.30" y1="189.53" x2="29.30" y2="189.53" stroke="#aeeaae" stroke-width="0.8" opacity="0.6"/>
<line x1="243.70" y1="189.53" x2="245.70" y2="189.53" stroke="#c888e4" stroke-width="0.8" opacity="0.6"/>
<line x1="27.30" y1="200.30" x2="29.30" y2="200.30" stroke="#aeeaae" stroke-width="0.8" opacity="0.6"/>
<line x1="243.70" y1="200.30" x2="245.70" y2="200.30" stroke="#c888e4" stroke-width="0.8" opacity="0.6"/>
<line x1="27.30" y1="211.07" x2="29.30" y2="211.07" stroke="#aeeaae" stroke-width="0.8" opacity="0.6"/>
<line x1="243.70" y1="211.07" x2="245.70" y2="211.07" stroke="#c888e4" stroke-width="0.8" opacity="0.6"/>
<line x1="27.30" y1="221.83" x2="29.30" y2="221.83" stroke="#aeeaae" stroke-width="0.8" opacity="0.6"/>
<line x1="243.70" y1="221.83" x2="245.70" y2="221.83" stroke="#c888e4" stroke-width="0.8" opacity="0.6"/>
<line x1="27.30" y1="232.60" x2="29.30" y2="232.60" stroke="#aeeaae" stroke-width="0.8" opacity="0.6"/>
<line x1="243.70" y1="232.60" x2="245.70" y2="232.60" stroke="#c888e4" stroke-width="0.8" opacity="0.6"/>
<line x1="27.30" y1="243.37" x2="29.30" y2="243.37" stroke="#aeeaae" stroke-width="0.8" opacity="0.6"/>
<line x1="243.70" y1="243.37" x2="245.70" y2="243.37" stroke="#c888e4" stroke-width="0.8" opacity="0.6"/>
<line x1="27.30" y1="254.13" x2="29.30" y2="254.13" stroke="#aeeaae" stroke-width="0.8" opacity="0.6"/>
<line x1="243.70" y1="254.13" x2="245.70" y2="254.13" stroke="#c888e4" stroke-width="0.8" opacity="0.6"/>
<line x1="27.30" y1="264.90" x2="29.30" y2="264.90" stroke="#aeeaae" stroke-width="0.8" opacity="0.6"/>
<line x1="243.70" y1="264.90" x2="245.70" y2="264.90" stroke="#c888e4" stroke-width="0.8" opacity="0.6"/>
<line x1="27.30" y1="275.67" x2="29.30" y2="275.67" stroke="#aeeaae" stroke-width="0.8" opacity="0.6"/>
<line x1="243.70" y1="275.67" x2="245.70" y2="275.67" stroke="#c888e4" stroke-width="0.8" opacity="0.6"/>
<line x1="27.30" y1="286.43" x2="29.30" y2="286.43" stroke="#aeeaae" stroke-width="0.8" opacity="0.6"/>
<line x1="243.70" y1="286.43" x2="245.70" y2="286.43" stroke="#c888e4" stroke-width="0.8" opacity="0.6"/>
<line x1="27.30" y1="297.20" x2="29.30" y2="297.20" stroke="#aeeaae" stroke-width="0.8" opacity="0.6"/>
<line x1="243.70" y1="297.20" x2="245.70" y2="297.20" stroke="#c888e4" stroke-width="0.8" opacity="0.6"/>
<polyline points="29.30,203.71 36.45,209.18 43.59,214.11 50.74,218.53 57.89,222.51 65.03,226.11 72.18,229.40 79.33,232.43 86.47,235.25 93.62,237.91 100.77,240.44 107.91,242.86 115.06,245.22 122.21,247.51 129.35,249.75 136.50,251.93 143.65,254.08 150.79,256.17 157.94,258.20 165.09,260.18 172.23,262.10 179.38,263.94 186.53,265.73 193.67,267.45 200.82,269.11 207.97,270.72 215.11,272.29 222.26,273.82 229.41,275.34 236.55,276.83 243.70,278.31" fill="none" stroke="#c8f4c8" stroke-width="0.6"/>
<polygon points="29.30,201.11 32.20,203.71 29.30,206.31 26.40,203.71" fill="#14dc14"/>
<polygon points="36.45,206.58 39.35,209.18 36.45,211.78 33.55,209.18" fill="#14dc14"/>
<polygon points="43.59,211.51 46.49,214.11 43.59,216.71 40.69,214.11" fill="#14dc14"/>
<polygon points="50.74,215.93 53.64,218.53 50.74,221.13 47.84,218.53" fill="#14dc14"/>
<polygon points="57.89,219.91 60.79,222.51 57.89,225.11 54.99,222.51" fill="#14dc14"/>
<polygon points="65.03,223.51 67.93,226.11 65.03,228.71 62.13,226.11" fill="#14dc14"/>
<polygon points="72.18,226.80 75.08,229.40 72.18,232.00 69.28,229.40" fill="#14dc14"/>
<polygon points="79.33,229.83 82.23,232.43 79.33,235.03 76.43,232.43" fill="#14dc14"/>
<polygon points="86.47,232.65 89.37,235.25 86.47,237.85 83.57,235.25" fill="#14dc14"/>
<polygon points="93.62,235.31 96.52,237.91 93.62,240.51 90.72,237.91" fill="#14dc14"/>
<polygon points="100.77,237.84 103.67,240.44 100.77,243.04 97.87,240.44" fill="#14dc14"/>
<polygon points="107.91,240.26 110.81,242.86 107.91,245.46 105.01,242.86" fill="#14dc14"/>
<polygon points="115.06,242.62 117.96,245.22 115.06,247.82 112.16,245.22" fill="#14dc14"/>
<polygon points="122.21,244.91 125.11,247.51 122.21,250.11 119.31,247.51" fill="#14dc14"/>
<polygon points="129.35,247.15 132.25,249.75 129.35,252.35 126.45,249.75" fill="#14dc14"/>
<polygon points="136.50,249.33 139.40,251.93 136.50,254.53 133.60,251.93" fill="#14dc14"/>
<polygon points="143.65,251.48 146.55,254.08 143.65,256.68 140.75,254.08" fill="#14dc14"/>
<polygon points="150.79,253.57 153.69,256.17 150.79,258.77 147.89,256.17" fill="#14dc14"/>
<polygon points="157.94,255.60 160.84,258.20 157.94,260.80 155.04,258.20" fill="#14dc14"/>
<polygon points="165.09,257.58 167.99,260.18 165.09,262.78 162.19,260.18" fill="#14dc14"/>
<polygon points="172.23,259.50 175.13,262.10 172.23,264.70 169.33,262.10" fill="#14dc14"/>
<polygon points="179.38,261.34 182.28,263.94 179.38,266.54 176.48,263.94" fill="#14dc14"/>
<polygon points="186.53,263.13 189.43,265.73 186.53,268.33 183.63,265.73" fill="#14dc14"/>
<polygon points="193.67,264.85 196.57,267.45 193.67,270.05 190.77,267.45" fill="#14dc14"/>
<polygon points="200.82,266.51 203.72,269.11 200.82,271.71 197.92,269.11" fill="#14dc14"/>
<polygon points="207.97,268.12 210.87,270.72 207.97,273.32 205.07,270.72" fill="#14dc14"/>
<polygon points="215.11,269.69 218.01,272.29 215.11,274.89 212.21,272.29" fill="#14dc14"/>
<polygon points="222.26,271.22 225.16,273.82 222.26,276.42 219.36,273.82" fill="#14dc14"/>
<polygon points="229.41,272.74 232.31,275.34 229.41,277.94 226.51,275.34" fill="#14dc14"/>
<polygon points="236.55,274.23 239.45,276.83 236.55,279.43 233.65,276.83" fill="#14dc14"/>
<polygon points="243.70,275.71 246.60,278.31 243.70,280.91 240.80,278.31" fill="#14dc14"/>
<polyline points="29.30,208.71 36.45,214.15 43.59,219.04 50.74,223.43 57.89,227.37 65.03,230.95 72.18,234.20 79.33,237.20 86.47,239.98 93.62,242.61 100.77,245.10 107.91,247.50 115.06,249.82 122.21,252.07 129.35,254.28 136.50,256.43 143.65,258.54 150.79,260.60 157.94,262.60 165.09,264.55 172.23,266.43 179.38,268.24 186.53,269.99 193.67,271.68 200.82,273.31 207.97,274.89 215.11,276.42 222.26,277.92 229.41,279.40 236.55,280.87 243.70,282.31" fill="none" stroke="#c8f4c8" stroke-width="0.6"/>
<polygon points="29.30,206.11 32.20,208.71 29.30,211.31 26.40,208.71" fill="#fff" stroke="#c8f4c8" stroke-width="0.9"/>
<polygon points="36.45,211.55 39.35,214.15 36.45,216.75 33.55,214.15" fill="#fff" stroke="#c8f4c8" stroke-width="0.9"/>
<polygon points="43.59,216.44 46.49,219.04 43.59,221.64 40.69,219.04" fill="#fff" stroke="#c8f4c8" stroke-width="0.9"/>
<polygon points="50.74,220.83 53.64,223.43 50.74,226.03 47.84,223.43" fill="#fff" stroke="#c8f4c8" stroke-width="0.9"/>
<polygon points="57.89,224.77 60.79,227.37 57.89,229.97 54.99,227.37" fill="#fff" stroke="#c8f4c8" stroke-width="0.9"/>
<polygon points="65.03,228.35 67.93,230.95 65.03,233.55 62.13,230.95" fill="#fff" stroke="#c8f4c8" stroke-width="0.9"/>
<polygon points="72.18,231.60 75.08,234.20 72.18,236.80 69.28,234.20" fill="#fff" stroke="#c8f4c8" stroke-width="0.9"/>
<polygon points="79.33,234.60 82.23,237.20 79.33,239.80 76.43,237.20" fill="#fff" stroke="#c8f4c8" stroke-width="0.9"/>
<polygon points="86.47,237.38 89.37,239.98 86.47,242.58 83.57,239.98" fill="#fff" stroke="#c8f4c8" stroke-width="0.9"/>
<polygon points="93.62,240.01 96.52,242.61 93.62,245.21 90.72,242.61" fill="#fff" stroke="#c8f4c8" stroke-width="0.9"/>
<polygon points="100.77,242.50 103.67,245.10 100.77,247.70 97.87,245.10" fill="#fff" stroke="#c8f4c8" stroke-width="0.9"/>
<polygon points="107.91,244.90 110.81,247.50 107.91,250.10 105.01,247.50" fill="#fff" stroke="#c8f4c8" stroke-width="0.9"/>
<polygon points="115.06,247.22 117.96,249.82 115.06,252.42 112.16,249.82" fill="#fff" stroke="#c8f4c8" stroke-width="0.9"/>
<polygon points="122.21,249.47 125.11,252.07 122.21,254.67 119.31,252.07" fill="#fff" stroke="#c8f4c8" stroke-width="0.9"/>
<polygon points="129.35,251.68 132.25,254.28 129.35,256.88 126.45,254.28" fill="#fff" stroke="#c8f4c8" stroke-width="0.9"/>
<polygon points="136.50,253.83 139.40,256.43 136.50,259.03 133.60,256.43" fill="#fff" stroke="#c8f4c8" stroke-width="0.9"/>
<polygon points="143.65,255.94 146.55,258.54 143.65,261.14 140.75,258.54" fill="#fff" stroke="#c8f4c8" stroke-width="0.9"/>
<polygon points="150.79,258.00 153.69,260.60 150.79,263.20 147.89,260.60" fill="#fff" stroke="#c8f4c8" stroke-width="0.9"/>
<polygon points="157.94,260.00 160.84,262.60 157.94,265.20 155.04,262.60" fill="#fff" stroke="#c8f4c8" stroke-width="0.9"/>
<polygon points="165.09,261.95 167.99,264.55 165.09,267.15 162.19,264.55" fill="#fff" stroke="#c8f4c8" stroke-width="0.9"/>
<polygon points="172.23,263.83 175.13,266.43 172.23,269.03 169.33,266.43" fill="#fff" stroke="#c8f4c8" stroke-width="0.9"/>
<polygon points="179.38,265.64 182.28,268.24 179.38,270.84 176.48,268.24" fill="#fff" stroke="#c8f4c8" stroke-width="0.9"/>
<polygon points="186.53,267.39 189.43,269.99 186.53,272.59 183.63,269.99" fill="#fff" stroke="#c8f4c8" stroke-width="0.9"/>
<polygon points="193.67,269.08 196.57,271.68 193.67,274.28 190.77,271.68" fill="#fff" stroke="#c8f4c8" stroke-width="0.9"/>
<polygon points="200.82,270.71 203.72,273.31 200.82,275.91 197.92,273.31" fill="#fff" stroke="#c8f4c8" stroke-width="0.9"/>
<polygon points="207.97,272.29 210.87,274.89 207.97,277.49 205.07,274.89" fill="#fff" stroke="#c8f4c8" stroke-width="0.9"/>
<polygon points="215.11,273.82 218.01,276.42 215.11,279.02 212.21,276.42" fill="#fff" stroke="#c8f4c8" stroke-width="0.9"/>
<polygon points="222.26,275.32 225.16,277.92 222.26,280.52 219.36,277.92" fill="#fff" stroke="#c8f4c8" stroke-width="0.9"/>
<polygon points="229.41,276.80 232.31,279.40 229.41,282.00 226.51,279.40" fill="#fff" stroke="#c8f4c8" stroke-width="0.9"/>
<polygon points="236.55,278.27 239.45,280.87 236.55,283.47 233.65,280.87" fill="#fff" stroke="#c8f4c8" stroke-width="0.9"/>
<polygon points="243.70,279.71 246.60,282.31 243.70,284.91 240.80,282.31" fill="#fff" stroke="#c8f4c8" stroke-width="0.9"/>
<polyline points="29.30,235.20 36.45,248.70 43.59,259.50 50.74,268.10 57.89,274.80 65.03,280.00 72.18,283.80 79.33,286.80 86.47,289.10 93.62,291.10 100.77,292.40 107.91,293.50 115.06,294.60 122.21,295.10 129.35,295.60 136.50,296.10 143.65,296.40 150.79,296.60 157.94,296.70 165.09,296.80 172.23,296.90 179.38,296.90 186.53,296.90 193.67,296.90 200.82,296.90 207.97,296.90 215.11,296.90 222.26,296.90 229.41,296.90 236.55,296.90 243.70,296.90" fill="none" stroke="#e2a4f0" stroke-width="0.6"/>
<circle cx="29.30" cy="235.20" r="2.6" fill="#c800ec"/>
<circle cx="36.45" cy="248.70" r="2.6" fill="#c800ec"/>
<circle cx="43.59" cy="259.50" r="2.6" fill="#c800ec"/>
<circle cx="50.74" cy="268.10" r="2.6" fill="#c800ec"/>
<circle cx="57.89" cy="274.80" r="2.6" fill="#c800ec"/>
<circle cx="65.03" cy="280.00" r="2.6" fill="#c800ec"/>
<circle cx="72.18" cy="283.80" r="2.6" fill="#c800ec"/>
<circle cx="79.33" cy="286.80" r="2.6" fill="#c800ec"/>
<circle cx="86.47" cy="289.10" r="2.6" fill="#c800ec"/>
<circle cx="93.62" cy="291.10" r="2.6" fill="#c800ec"/>
<circle cx="100.77" cy="292.40" r="2.6" fill="#c800ec"/>
<circle cx="107.91" cy="293.50" r="2.6" fill="#c800ec"/>
<circle cx="115.06" cy="294.60" r="2.6" fill="#c800ec"/>
<circle cx="122.21" cy="295.10" r="2.6" fill="#c800ec"/>
<circle cx="129.35" cy="295.60" r="2.6" fill="#c800ec"/>
<circle cx="136.50" cy="296.10" r="2.6" fill="#c800ec"/>
<circle cx="143.65" cy="296.40" r="2.6" fill="#c800ec"/>
<circle cx="150.79" cy="296.60" r="2.6" fill="#c800ec"/>
<circle cx="157.94" cy="296.70" r="2.6" fill="#c800ec"/>
<circle cx="165.09" cy="296.80" r="2.6" fill="#c800ec"/>
<circle cx="172.23" cy="296.90" r="2.6" fill="#c800ec"/>
<circle cx="179.38" cy="296.90" r="2.6" fill="#c800ec"/>
<circle cx="186.53" cy="296.90" r="2.6" fill="#c800ec"/>
<circle cx="193.67" cy="296.90" r="2.6" fill="#c800ec"/>
<circle cx="200.82" cy="296.90" r="2.6" fill="#c800ec"/>
<circle cx="207.97" cy="296.90" r="2.6" fill="#c800ec"/>
<circle cx="215.11" cy="296.90" r="2.6" fill="#c800ec"/>
<circle cx="222.26" cy="296.90" r="2.6" fill="#c800ec"/>
<circle cx="229.41" cy="296.90" r="2.6" fill="#c800ec"/>
<circle cx="236.55" cy="296.90" r="2.6" fill="#c800ec"/>
<circle cx="243.70" cy="296.90" r="2.6" fill="#c800ec"/>
<polyline points="29.30,230.80 36.45,246.10 43.59,257.20 50.74,266.10 57.89,273.10 65.03,278.60 72.18,282.60 79.33,285.80 86.47,288.30 93.62,290.40 100.77,291.80 107.91,292.90 115.06,294.00 122.21,294.50 129.35,295.00 136.50,295.50 143.65,295.80 150.79,296.00 157.94,296.10 165.09,296.20 172.23,296.30 179.38,296.30 186.53,296.30 193.67,296.30 200.82,296.30 207.97,296.30 215.11,296.30 222.26,296.30 229.41,296.30 236.55,296.30 243.70,296.30" fill="none" stroke="#e2a4f0" stroke-width="0.6"/>
<circle cx="29.30" cy="230.80" r="2.6" fill="#fff" stroke="#eab0f4" stroke-width="0.8"/>
<circle cx="36.45" cy="246.10" r="2.6" fill="#fff" stroke="#eab0f4" stroke-width="0.8"/>
<circle cx="43.59" cy="257.20" r="2.6" fill="#fff" stroke="#eab0f4" stroke-width="0.8"/>
<circle cx="50.74" cy="266.10" r="2.6" fill="#fff" stroke="#eab0f4" stroke-width="0.8"/>
<circle cx="57.89" cy="273.10" r="2.6" fill="#fff" stroke="#eab0f4" stroke-width="0.8"/>
<circle cx="65.03" cy="278.60" r="2.6" fill="#fff" stroke="#eab0f4" stroke-width="0.8"/>
<circle cx="72.18" cy="282.60" r="2.6" fill="#fff" stroke="#eab0f4" stroke-width="0.8"/>
<circle cx="79.33" cy="285.80" r="2.6" fill="#fff" stroke="#eab0f4" stroke-width="0.8"/>
<circle cx="86.47" cy="288.30" r="2.6" fill="#fff" stroke="#eab0f4" stroke-width="0.8"/>
<circle cx="93.62" cy="290.40" r="2.6" fill="#fff" stroke="#eab0f4" stroke-width="0.8"/>
<circle cx="100.77" cy="291.80" r="2.6" fill="#fff" stroke="#eab0f4" stroke-width="0.8"/>
<circle cx="107.91" cy="292.90" r="2.6" fill="#fff" stroke="#eab0f4" stroke-width="0.8"/>
<circle cx="115.06" cy="294.00" r="2.6" fill="#fff" stroke="#eab0f4" stroke-width="0.8"/>
<circle cx="122.21" cy="294.50" r="2.6" fill="#fff" stroke="#eab0f4" stroke-width="0.8"/>
<circle cx="129.35" cy="295.00" r="2.6" fill="#fff" stroke="#eab0f4" stroke-width="0.8"/>
<circle cx="136.50" cy="295.50" r="2.6" fill="#fff" stroke="#eab0f4" stroke-width="0.8"/>
<circle cx="143.65" cy="295.80" r="2.6" fill="#fff" stroke="#eab0f4" stroke-width="0.8"/>
<circle cx="150.79" cy="296.00" r="2.6" fill="#fff" stroke="#eab0f4" stroke-width="0.8"/>
<circle cx="157.94" cy="296.10" r="2.6" fill="#fff" stroke="#eab0f4" stroke-width="0.8"/>
<circle cx="165.09" cy="296.20" r="2.6" fill="#fff" stroke="#eab0f4" stroke-width="0.8"/>
<circle cx="172.23" cy="296.30" r="2.6" fill="#fff" stroke="#eab0f4" stroke-width="0.8"/>
<circle cx="179.38" cy="296.30" r="2.6" fill="#fff" stroke="#eab0f4" stroke-width="0.8"/>
<circle cx="186.53" cy="296.30" r="2.6" fill="#fff" stroke="#eab0f4" stroke-width="0.8"/>
<circle cx="193.67" cy="296.30" r="2.6" fill="#fff" stroke="#eab0f4" stroke-width="0.8"/>
<circle cx="200.82" cy="296.30" r="2.6" fill="#fff" stroke="#eab0f4" stroke-width="0.8"/>
<circle cx="207.97" cy="296.30" r="2.6" fill="#fff" stroke="#eab0f4" stroke-width="0.8"/>
<circle cx="215.11" cy="296.30" r="2.6" fill="#fff" stroke="#eab0f4" stroke-width="0.8"/>
<circle cx="222.26" cy="296.30" r="2.6" fill="#fff" stroke="#eab0f4" stroke-width="0.8"/>
<circle cx="229.41" cy="296.30" r="2.6" fill="#fff" stroke="#eab0f4" stroke-width="0.8"/>
<circle cx="236.55" cy="296.30" r="2.6" fill="#fff" stroke="#eab0f4" stroke-width="0.8"/>
<circle cx="243.70" cy="296.30" r="2.6" fill="#fff" stroke="#eab0f4" stroke-width="0.8"/>
<text x="29.30" y="310.20" text-anchor="middle" fill="#222222" font-size="8.4">700</text>
<text x="100.77" y="310.20" text-anchor="middle" fill="#222222" font-size="8.4">800</text>
<text x="172.23" y="310.20" text-anchor="middle" fill="#222222" font-size="8.4">900</text>
<text x="243.70" y="310.20" text-anchor="middle" fill="#222222" font-size="8.4">1000</text>
<text x="136.50" y="319.90" text-anchor="middle" fill="#222222" font-size="8.4">Temperature (°C)</text>
<text x="22.30" y="300.40" text-anchor="end" fill="#26d826" font-size="8.4">6</text>
<text x="22.30" y="257.33" text-anchor="end" fill="#26d826" font-size="8.4">9</text>
<text x="22.30" y="214.27" text-anchor="end" fill="#26d826" font-size="8.4">12</text>
<text x="22.30" y="171.20" text-anchor="end" fill="#26d826" font-size="8.4">15</text>
<text x="250.70" y="300.40" text-anchor="start" fill="#dc40e0" font-size="8.4">0</text>
<text x="250.70" y="257.33" text-anchor="start" fill="#dc40e0" font-size="8.4">1</text>
<text x="250.70" y="214.27" text-anchor="start" fill="#dc40e0" font-size="8.4">2</text>
<text x="250.70" y="171.20" text-anchor="start" fill="#dc40e0" font-size="8.4">3</text>
<text transform="translate(10.00,232.60) rotate(-90)" text-anchor="middle" fill="#26d826" font-size="8.1">CO<tspan font-size="6" dy="1.5">2</tspan><tspan dy="-1.5"> (%)</tspan></text>
<text transform="translate(265.00,232.60) rotate(-90)" text-anchor="middle" fill="#dc40e0" font-size="8.1">CH<tspan font-size="6" dy="1.5">4</tspan><tspan dy="-1.5"> (%)</tspan></text>
<rect x="31.00" y="170.20" width="210.80" height="13.10" rx="1.5" fill="#fff" stroke="#1e1e1e" stroke-width="1.2"/>
<line x1="36.00" y1="176.75" x2="50.00" y2="176.75" stroke="#c8f4c8" stroke-width="0.8"/>
<polygon points="43.00,174.15 45.90,176.75 43.00,179.35 40.10,176.75" fill="#14dc14"/>
<text x="52.20" y="179.35" fill="#222222" font-size="7.6">CO2-PUR</text>
<line x1="88.60" y1="176.75" x2="102.60" y2="176.75" stroke="#c8f4c8" stroke-width="0.8"/>
<polygon points="95.60,174.15 98.50,176.75 95.60,179.35 92.70,176.75" fill="#fff" stroke="#c8f4c8" stroke-width="0.9"/>
<text x="104.80" y="179.35" fill="#222222" font-size="7.6">CO2-PUF</text>
<line x1="140.80" y1="176.75" x2="154.80" y2="176.75" stroke="#e2a4f0" stroke-width="0.8"/>
<circle cx="147.80" cy="176.75" r="2.6" fill="#c800ec"/>
<text x="155.90" y="179.35" fill="#222222" font-size="7.6">CH4-PUR</text>
<line x1="193.00" y1="176.75" x2="207.00" y2="176.75" stroke="#e2a4f0" stroke-width="0.8"/>
<circle cx="200.00" cy="176.75" r="2.6" fill="#fff" stroke="#eab0f4" stroke-width="0.8"/>
<text x="208.80" y="179.35" fill="#222222" font-size="7.6">CH4-PUF</text>
<rect x="31.60" y="187.00" width="17.90" height="13.20" fill="#f6f000"/>
<text x="40.55" y="196.60" text-anchor="middle" fill="#222222" font-size="8.6">(c)</text>
<line x1="304.20" y1="168.00" x2="518.60" y2="168.00" stroke="#8c8c8c" stroke-width="1"/>
<line x1="304.20" y1="176.07" x2="518.60" y2="176.07" stroke="#c4c4c4" stroke-width="1"/>
<line x1="304.20" y1="184.15" x2="518.60" y2="184.15" stroke="#c4c4c4" stroke-width="1"/>
<line x1="304.20" y1="192.22" x2="518.60" y2="192.22" stroke="#c4c4c4" stroke-width="1"/>
<line x1="304.20" y1="200.30" x2="518.60" y2="200.30" stroke="#8c8c8c" stroke-width="1"/>
<line x1="304.20" y1="208.38" x2="518.60" y2="208.38" stroke="#c4c4c4" stroke-width="1"/>
<line x1="304.20" y1="216.45" x2="518.60" y2="216.45" stroke="#c4c4c4" stroke-width="1"/>
<line x1="304.20" y1="224.52" x2="518.60" y2="224.52" stroke="#c4c4c4" stroke-width="1"/>
<line x1="304.20" y1="232.60" x2="518.60" y2="232.60" stroke="#8c8c8c" stroke-width="1"/>
<line x1="304.20" y1="240.68" x2="518.60" y2="240.68" stroke="#c4c4c4" stroke-width="1"/>
<line x1="304.20" y1="248.75" x2="518.60" y2="248.75" stroke="#c4c4c4" stroke-width="1"/>
<line x1="304.20" y1="256.82" x2="518.60" y2="256.82" stroke="#c4c4c4" stroke-width="1"/>
<line x1="304.20" y1="264.90" x2="518.60" y2="264.90" stroke="#8c8c8c" stroke-width="1"/>
<line x1="304.20" y1="272.98" x2="518.60" y2="272.98" stroke="#c4c4c4" stroke-width="1"/>
<line x1="304.20" y1="281.05" x2="518.60" y2="281.05" stroke="#c4c4c4" stroke-width="1"/>
<line x1="304.20" y1="289.12" x2="518.60" y2="289.12" stroke="#c4c4c4" stroke-width="1"/>
<line x1="318.49" y1="168.00" x2="318.49" y2="299.20" stroke="#c4c4c4" stroke-width="1"/>
<line x1="332.79" y1="168.00" x2="332.79" y2="299.20" stroke="#c4c4c4" stroke-width="1"/>
<line x1="347.08" y1="168.00" x2="347.08" y2="299.20" stroke="#c4c4c4" stroke-width="1"/>
<line x1="361.37" y1="168.00" x2="361.37" y2="299.20" stroke="#c4c4c4" stroke-width="1"/>
<line x1="375.67" y1="168.00" x2="375.67" y2="299.20" stroke="#8c8c8c" stroke-width="1"/>
<line x1="389.96" y1="168.00" x2="389.96" y2="299.20" stroke="#c4c4c4" stroke-width="1"/>
<line x1="404.25" y1="168.00" x2="404.25" y2="299.20" stroke="#c4c4c4" stroke-width="1"/>
<line x1="418.55" y1="168.00" x2="418.55" y2="299.20" stroke="#c4c4c4" stroke-width="1"/>
<line x1="432.84" y1="168.00" x2="432.84" y2="299.20" stroke="#c4c4c4" stroke-width="1"/>
<line x1="447.13" y1="168.00" x2="447.13" y2="299.20" stroke="#8c8c8c" stroke-width="1"/>
<line x1="461.43" y1="168.00" x2="461.43" y2="299.20" stroke="#c4c4c4" stroke-width="1"/>
<line x1="475.72" y1="168.00" x2="475.72" y2="299.20" stroke="#c4c4c4" stroke-width="1"/>
<line x1="490.01" y1="168.00" x2="490.01" y2="299.20" stroke="#c4c4c4" stroke-width="1"/>
<line x1="504.31" y1="168.00" x2="504.31" y2="299.20" stroke="#c4c4c4" stroke-width="1"/>
<line x1="303.70" y1="297.20" x2="519.10" y2="297.20" stroke="#b8b8b8" stroke-width="1"/>
<line x1="304.20" y1="167.50" x2="304.20" y2="299.20" stroke="#aeeaae" stroke-width="1"/>
<line x1="518.60" y1="167.50" x2="518.60" y2="299.20" stroke="#c888e4" stroke-width="1"/>
<line x1="302.20" y1="168.00" x2="304.20" y2="168.00" stroke="#aeeaae" stroke-width="0.8" opacity="0.6"/>
<line x1="518.60" y1="168.00" x2="520.60" y2="168.00" stroke="#c888e4" stroke-width="0.8" opacity="0.6"/>
<line x1="302.20" y1="176.07" x2="304.20" y2="176.07" stroke="#aeeaae" stroke-width="0.8" opacity="0.6"/>
<line x1="518.60" y1="176.07" x2="520.60" y2="176.07" stroke="#c888e4" stroke-width="0.8" opacity="0.6"/>
<line x1="302.20" y1="184.15" x2="304.20" y2="184.15" stroke="#aeeaae" stroke-width="0.8" opacity="0.6"/>
<line x1="518.60" y1="184.15" x2="520.60" y2="184.15" stroke="#c888e4" stroke-width="0.8" opacity="0.6"/>
<line x1="302.20" y1="192.22" x2="304.20" y2="192.22" stroke="#aeeaae" stroke-width="0.8" opacity="0.6"/>
<line x1="518.60" y1="192.22" x2="520.60" y2="192.22" stroke="#c888e4" stroke-width="0.8" opacity="0.6"/>
<line x1="302.20" y1="200.30" x2="304.20" y2="200.30" stroke="#aeeaae" stroke-width="0.8" opacity="0.6"/>
<line x1="518.60" y1="200.30" x2="520.60" y2="200.30" stroke="#c888e4" stroke-width="0.8" opacity="0.6"/>
<line x1="302.20" y1="208.38" x2="304.20" y2="208.38" stroke="#aeeaae" stroke-width="0.8" opacity="0.6"/>
<line x1="518.60" y1="208.38" x2="520.60" y2="208.38" stroke="#c888e4" stroke-width="0.8" opacity="0.6"/>
<line x1="302.20" y1="216.45" x2="304.20" y2="216.45" stroke="#aeeaae" stroke-width="0.8" opacity="0.6"/>
<line x1="518.60" y1="216.45" x2="520.60" y2="216.45" stroke="#c888e4" stroke-width="0.8" opacity="0.6"/>
<line x1="302.20" y1="224.52" x2="304.20" y2="224.52" stroke="#aeeaae" stroke-width="0.8" opacity="0.6"/>
<line x1="518.60" y1="224.52" x2="520.60" y2="224.52" stroke="#c888e4" stroke-width="0.8" opacity="0.6"/>
<line x1="302.20" y1="232.60" x2="304.20" y2="232.60" stroke="#aeeaae" stroke-width="0.8" opacity="0.6"/>
<line x1="518.60" y1="232.60" x2="520.60" y2="232.60" stroke="#c888e4" stroke-width="0.8" opacity="0.6"/>
<line x1="302.20" y1="240.68" x2="304.20" y2="240.68" stroke="#aeeaae" stroke-width="0.8" opacity="0.6"/>
<line x1="518.60" y1="240.68" x2="520.60" y2="240.68" stroke="#c888e4" stroke-width="0.8" opacity="0.6"/>
<line x1="302.20" y1="248.75" x2="304.20" y2="248.75" stroke="#aeeaae" stroke-width="0.8" opacity="0.6"/>
<line x1="518.60" y1="248.75" x2="520.60" y2="248.75" stroke="#c888e4" stroke-width="0.8" opacity="0.6"/>
<line x1="302.20" y1="256.82" x2="304.20" y2="256.82" stroke="#aeeaae" stroke-width="0.8" opacity="0.6"/>
<line x1="518.60" y1="256.82" x2="520.60" y2="256.82" stroke="#c888e4" stroke-width="0.8" opacity="0.6"/>
<line x1="302.20" y1="264.90" x2="304.20" y2="264.90" stroke="#aeeaae" stroke-width="0.8" opacity="0.6"/>
<line x1="518.60" y1="264.90" x2="520.60" y2="264.90" stroke="#c888e4" stroke-width="0.8" opacity="0.6"/>
<line x1="302.20" y1="272.98" x2="304.20" y2="272.98" stroke="#aeeaae" stroke-width="0.8" opacity="0.6"/>
<line x1="518.60" y1="272.98" x2="520.60" y2="272.98" stroke="#c888e4" stroke-width="0.8" opacity="0.6"/>
<line x1="302.20" y1="281.05" x2="304.20" y2="281.05" stroke="#aeeaae" stroke-width="0.8" opacity="0.6"/>
<line x1="518.60" y1="281.05" x2="520.60" y2="281.05" stroke="#c888e4" stroke-width="0.8" opacity="0.6"/>
<line x1="302.20" y1="289.12" x2="304.20" y2="289.12" stroke="#aeeaae" stroke-width="0.8" opacity="0.6"/>
<line x1="518.60" y1="289.12" x2="520.60" y2="289.12" stroke="#c888e4" stroke-width="0.8" opacity="0.6"/>
<line x1="302.20" y1="297.20" x2="304.20" y2="297.20" stroke="#aeeaae" stroke-width="0.8" opacity="0.6"/>
<line x1="518.60" y1="297.20" x2="520.60" y2="297.20" stroke="#c888e4" stroke-width="0.8" opacity="0.6"/>
<polyline points="304.20,189.65 311.35,195.36 318.49,200.40 325.64,204.85 332.79,208.82 339.93,212.39 347.08,215.64 354.23,218.62 361.37,221.40 368.52,224.01 375.67,226.49 382.81,228.88 389.96,231.18 397.11,233.42 404.25,235.60 411.40,237.74 418.55,239.82 425.69,241.86 432.84,243.84 439.99,245.78 447.13,247.67 454.28,249.50 461.43,251.29 468.57,253.02 475.72,254.72 482.87,256.37 490.01,258.00 497.16,259.60 504.31,261.19 511.45,262.76 518.60,264.31" fill="none" stroke="#c8f4c8" stroke-width="0.6"/>
<polygon points="304.20,187.05 307.10,189.65 304.20,192.25 301.30,189.65" fill="#14dc14"/>
<polygon points="311.35,192.76 314.25,195.36 311.35,197.96 308.45,195.36" fill="#14dc14"/>
<polygon points="318.49,197.80 321.39,200.40 318.49,203.00 315.59,200.40" fill="#14dc14"/>
<polygon points="325.64,202.25 328.54,204.85 325.64,207.45 322.74,204.85" fill="#14dc14"/>
<polygon points="332.79,206.22 335.69,208.82 332.79,211.42 329.89,208.82" fill="#14dc14"/>
<polygon points="339.93,209.79 342.83,212.39 339.93,214.99 337.03,212.39" fill="#14dc14"/>
<polygon points="347.08,213.04 349.98,215.64 347.08,218.24 344.18,215.64" fill="#14dc14"/>
<polygon points="354.23,216.02 357.13,218.62 354.23,221.22 351.33,218.62" fill="#14dc14"/>
<polygon points="361.37,218.80 364.27,221.40 361.37,224.00 358.47,221.40" fill="#14dc14"/>
<polygon points="368.52,221.41 371.42,224.01 368.52,226.61 365.62,224.01" fill="#14dc14"/>
<polygon points="375.67,223.89 378.57,226.49 375.67,229.09 372.77,226.49" fill="#14dc14"/>
<polygon points="382.81,226.28 385.71,228.88 382.81,231.48 379.91,228.88" fill="#14dc14"/>
<polygon points="389.96,228.58 392.86,231.18 389.96,233.78 387.06,231.18" fill="#14dc14"/>
<polygon points="397.11,230.82 400.01,233.42 397.11,236.02 394.21,233.42" fill="#14dc14"/>
<polygon points="404.25,233.00 407.15,235.60 404.25,238.20 401.35,235.60" fill="#14dc14"/>
<polygon points="411.40,235.14 414.30,237.74 411.40,240.34 408.50,237.74" fill="#14dc14"/>
<polygon points="418.55,237.22 421.45,239.82 418.55,242.42 415.65,239.82" fill="#14dc14"/>
<polygon points="425.69,239.26 428.59,241.86 425.69,244.46 422.79,241.86" fill="#14dc14"/>
<polygon points="432.84,241.24 435.74,243.84 432.84,246.44 429.94,243.84" fill="#14dc14"/>
<polygon points="439.99,243.18 442.89,245.78 439.99,248.38 437.09,245.78" fill="#14dc14"/>
<polygon points="447.13,245.07 450.03,247.67 447.13,250.27 444.23,247.67" fill="#14dc14"/>
<polygon points="454.28,246.90 457.18,249.50 454.28,252.10 451.38,249.50" fill="#14dc14"/>
<polygon points="461.43,248.69 464.33,251.29 461.43,253.89 458.53,251.29" fill="#14dc14"/>
<polygon points="468.57,250.42 471.47,253.02 468.57,255.62 465.67,253.02" fill="#14dc14"/>
<polygon points="475.72,252.12 478.62,254.72 475.72,257.32 472.82,254.72" fill="#14dc14"/>
<polygon points="482.87,253.77 485.77,256.37 482.87,258.97 479.97,256.37" fill="#14dc14"/>
<polygon points="490.01,255.40 492.91,258.00 490.01,260.60 487.11,258.00" fill="#14dc14"/>
<polygon points="497.16,257.00 500.06,259.60 497.16,262.20 494.26,259.60" fill="#14dc14"/>
<polygon points="504.31,258.59 507.21,261.19 504.31,263.79 501.41,261.19" fill="#14dc14"/>
<polygon points="511.45,260.16 514.35,262.76 511.45,265.36 508.55,262.76" fill="#14dc14"/>
<polygon points="518.60,261.71 521.50,264.31 518.60,266.91 515.70,264.31" fill="#14dc14"/>
<polyline points="304.20,193.65 311.35,199.36 318.49,204.40 325.64,208.85 332.79,212.82 339.93,216.39 347.08,219.64 354.23,222.62 361.37,225.40 368.52,228.01 375.67,230.49 382.81,232.88 389.96,235.18 397.11,237.42 404.25,239.60 411.40,241.74 418.55,243.82 425.69,245.86 432.84,247.84 439.99,249.78 447.13,251.67 454.28,253.50 461.43,255.29 468.57,257.02 475.72,258.72 482.87,260.37 490.01,262.00 497.16,263.60 504.31,265.19 511.45,266.76 518.60,268.31" fill="none" stroke="#c8f4c8" stroke-width="0.6"/>
<polygon points="304.20,191.05 307.10,193.65 304.20,196.25 301.30,193.65" fill="#fff" stroke="#c8f4c8" stroke-width="0.9"/>
<polygon points="311.35,196.76 314.25,199.36 311.35,201.96 308.45,199.36" fill="#fff" stroke="#c8f4c8" stroke-width="0.9"/>
<polygon points="318.49,201.80 321.39,204.40 318.49,207.00 315.59,204.40" fill="#fff" stroke="#c8f4c8" stroke-width="0.9"/>
<polygon points="325.64,206.25 328.54,208.85 325.64,211.45 322.74,208.85" fill="#fff" stroke="#c8f4c8" stroke-width="0.9"/>
<polygon points="332.79,210.22 335.69,212.82 332.79,215.42 329.89,212.82" fill="#fff" stroke="#c8f4c8" stroke-width="0.9"/>
<polygon points="339.93,213.79 342.83,216.39 339.93,218.99 337.03,216.39" fill="#fff" stroke="#c8f4c8" stroke-width="0.9"/>
<polygon points="347.08,217.04 349.98,219.64 347.08,222.24 344.18,219.64" fill="#fff" stroke="#c8f4c8" stroke-width="0.9"/>
<polygon points="354.23,220.02 357.13,222.62 354.23,225.22 351.33,222.62" fill="#fff" stroke="#c8f4c8" stroke-width="0.9"/>
<polygon points="361.37,222.80 364.27,225.40 361.37,228.00 358.47,225.40" fill="#fff" stroke="#c8f4c8" stroke-width="0.9"/>
<polygon points="368.52,225.41 371.42,228.01 368.52,230.61 365.62,228.01" fill="#fff" stroke="#c8f4c8" stroke-width="0.9"/>
<polygon points="375.67,227.89 378.57,230.49 375.67,233.09 372.77,230.49" fill="#fff" stroke="#c8f4c8" stroke-width="0.9"/>
<polygon points="382.81,230.28 385.71,232.88 382.81,235.48 379.91,232.88" fill="#fff" stroke="#c8f4c8" stroke-width="0.9"/>
<polygon points="389.96,232.58 392.86,235.18 389.96,237.78 387.06,235.18" fill="#fff" stroke="#c8f4c8" stroke-width="0.9"/>
<polygon points="397.11,234.82 400.01,237.42 397.11,240.02 394.21,237.42" fill="#fff" stroke="#c8f4c8" stroke-width="0.9"/>
<polygon points="404.25,237.00 407.15,239.60 404.25,242.20 401.35,239.60" fill="#fff" stroke="#c8f4c8" stroke-width="0.9"/>
<polygon points="411.40,239.14 414.30,241.74 411.40,244.34 408.50,241.74" fill="#fff" stroke="#c8f4c8" stroke-width="0.9"/>
<polygon points="418.55,241.22 421.45,243.82 418.55,246.42 415.65,243.82" fill="#fff" stroke="#c8f4c8" stroke-width="0.9"/>
<polygon points="425.69,243.26 428.59,245.86 425.69,248.46 422.79,245.86" fill="#fff" stroke="#c8f4c8" stroke-width="0.9"/>
<polygon points="432.84,245.24 435.74,247.84 432.84,250.44 429.94,247.84" fill="#fff" stroke="#c8f4c8" stroke-width="0.9"/>
<polygon points="439.99,247.18 442.89,249.78 439.99,252.38 437.09,249.78" fill="#fff" stroke="#c8f4c8" stroke-width="0.9"/>
<polygon points="447.13,249.07 450.03,251.67 447.13,254.27 444.23,251.67" fill="#fff" stroke="#c8f4c8" stroke-width="0.9"/>
<polygon points="454.28,250.90 457.18,253.50 454.28,256.10 451.38,253.50" fill="#fff" stroke="#c8f4c8" stroke-width="0.9"/>
<polygon points="461.43,252.69 464.33,255.29 461.43,257.89 458.53,255.29" fill="#fff" stroke="#c8f4c8" stroke-width="0.9"/>
<polygon points="468.57,254.42 471.47,257.02 468.57,259.62 465.67,257.02" fill="#fff" stroke="#c8f4c8" stroke-width="0.9"/>
<polygon points="475.72,256.12 478.62,258.72 475.72,261.32 472.82,258.72" fill="#fff" stroke="#c8f4c8" stroke-width="0.9"/>
<polygon points="482.87,257.77 485.77,260.37 482.87,262.97 479.97,260.37" fill="#fff" stroke="#c8f4c8" stroke-width="0.9"/>
<polygon points="490.01,259.40 492.91,262.00 490.01,264.60 487.11,262.00" fill="#fff" stroke="#c8f4c8" stroke-width="0.9"/>
<polygon points="497.16,261.00 500.06,263.60 497.16,266.20 494.26,263.60" fill="#fff" stroke="#c8f4c8" stroke-width="0.9"/>
<polygon points="504.31,262.59 507.21,265.19 504.31,267.79 501.41,265.19" fill="#fff" stroke="#c8f4c8" stroke-width="0.9"/>
<polygon points="511.45,264.16 514.35,266.76 511.45,269.36 508.55,266.76" fill="#fff" stroke="#c8f4c8" stroke-width="0.9"/>
<polygon points="518.60,265.71 521.50,268.31 518.60,270.91 515.70,268.31" fill="#fff" stroke="#c8f4c8" stroke-width="0.9"/>
<polyline points="304.20,266.00 311.35,273.60 318.49,279.50 325.64,283.80 332.79,287.50 339.93,290.10 347.08,291.80 354.23,293.30 361.37,294.50 368.52,295.50 375.67,296.20 382.81,296.70 389.96,297.00 397.11,297.20 404.25,297.30 411.40,297.40 418.55,297.40 425.69,297.40 432.84,297.40 439.99,297.40 447.13,297.40 454.28,297.40 461.43,297.40 468.57,297.40 475.72,297.40 482.87,297.40 490.01,297.40 497.16,297.40 504.31,297.40 511.45,297.40 518.60,297.40" fill="none" stroke="#e2a4f0" stroke-width="0.6"/>
<circle cx="304.20" cy="266.00" r="2.6" fill="#c800ec"/>
<circle cx="311.35" cy="273.60" r="2.6" fill="#c800ec"/>
<circle cx="318.49" cy="279.50" r="2.6" fill="#c800ec"/>
<circle cx="325.64" cy="283.80" r="2.6" fill="#c800ec"/>
<circle cx="332.79" cy="287.50" r="2.6" fill="#c800ec"/>
<circle cx="339.93" cy="290.10" r="2.6" fill="#c800ec"/>
<circle cx="347.08" cy="291.80" r="2.6" fill="#c800ec"/>
<circle cx="354.23" cy="293.30" r="2.6" fill="#c800ec"/>
<circle cx="361.37" cy="294.50" r="2.6" fill="#c800ec"/>
<circle cx="368.52" cy="295.50" r="2.6" fill="#c800ec"/>
<circle cx="375.67" cy="296.20" r="2.6" fill="#c800ec"/>
<circle cx="382.81" cy="296.70" r="2.6" fill="#c800ec"/>
<circle cx="389.96" cy="297.00" r="2.6" fill="#c800ec"/>
<circle cx="397.11" cy="297.20" r="2.6" fill="#c800ec"/>
<circle cx="404.25" cy="297.30" r="2.6" fill="#c800ec"/>
<circle cx="411.40" cy="297.40" r="2.6" fill="#c800ec"/>
<circle cx="418.55" cy="297.40" r="2.6" fill="#c800ec"/>
<circle cx="425.69" cy="297.40" r="2.6" fill="#c800ec"/>
<circle cx="432.84" cy="297.40" r="2.6" fill="#c800ec"/>
<circle cx="439.99" cy="297.40" r="2.6" fill="#c800ec"/>
<circle cx="447.13" cy="297.40" r="2.6" fill="#c800ec"/>
<circle cx="454.28" cy="297.40" r="2.6" fill="#c800ec"/>
<circle cx="461.43" cy="297.40" r="2.6" fill="#c800ec"/>
<circle cx="468.57" cy="297.40" r="2.6" fill="#c800ec"/>
<circle cx="475.72" cy="297.40" r="2.6" fill="#c800ec"/>
<circle cx="482.87" cy="297.40" r="2.6" fill="#c800ec"/>
<circle cx="490.01" cy="297.40" r="2.6" fill="#c800ec"/>
<circle cx="497.16" cy="297.40" r="2.6" fill="#c800ec"/>
<circle cx="504.31" cy="297.40" r="2.6" fill="#c800ec"/>
<circle cx="511.45" cy="297.40" r="2.6" fill="#c800ec"/>
<circle cx="518.60" cy="297.40" r="2.6" fill="#c800ec"/>
<polyline points="304.20,265.10 311.35,272.70 318.49,278.60 325.64,282.90 332.79,286.60 339.93,289.20 347.08,290.90 354.23,292.40 361.37,293.60 368.52,294.60 375.67,295.30 382.81,295.80 389.96,296.10 397.11,296.30 404.25,296.40 411.40,296.50 418.55,296.50 425.69,296.50 432.84,296.50 439.99,296.50 447.13,296.50 454.28,296.50 461.43,296.50 468.57,296.50 475.72,296.50 482.87,296.50 490.01,296.50 497.16,296.50 504.31,296.50 511.45,296.50 518.60,296.50" fill="none" stroke="#e2a4f0" stroke-width="0.6"/>
<circle cx="304.20" cy="265.10" r="2.6" fill="#fff" stroke="#eab0f4" stroke-width="0.8"/>
<circle cx="311.35" cy="272.70" r="2.6" fill="#fff" stroke="#eab0f4" stroke-width="0.8"/>
<circle cx="318.49" cy="278.60" r="2.6" fill="#fff" stroke="#eab0f4" stroke-width="0.8"/>
<circle cx="325.64" cy="282.90" r="2.6" fill="#fff" stroke="#eab0f4" stroke-width="0.8"/>
<circle cx="332.79" cy="286.60" r="2.6" fill="#fff" stroke="#eab0f4" stroke-width="0.8"/>
<circle cx="339.93" cy="289.20" r="2.6" fill="#fff" stroke="#eab0f4" stroke-width="0.8"/>
<circle cx="347.08" cy="290.90" r="2.6" fill="#fff" stroke="#eab0f4" stroke-width="0.8"/>
<circle cx="354.23" cy="292.40" r="2.6" fill="#fff" stroke="#eab0f4" stroke-width="0.8"/>
<circle cx="361.37" cy="293.60" r="2.6" fill="#fff" stroke="#eab0f4" stroke-width="0.8"/>
<circle cx="368.52" cy="294.60" r="2.6" fill="#fff" stroke="#eab0f4" stroke-width="0.8"/>
<circle cx="375.67" cy="295.30" r="2.6" fill="#fff" stroke="#eab0f4" stroke-width="0.8"/>
<circle cx="382.81" cy="295.80" r="2.6" fill="#fff" stroke="#eab0f4" stroke-width="0.8"/>
<circle cx="389.96" cy="296.10" r="2.6" fill="#fff" stroke="#eab0f4" stroke-width="0.8"/>
<circle cx="397.11" cy="296.30" r="2.6" fill="#fff" stroke="#eab0f4" stroke-width="0.8"/>
<circle cx="404.25" cy="296.40" r="2.6" fill="#fff" stroke="#eab0f4" stroke-width="0.8"/>
<circle cx="411.40" cy="296.50" r="2.6" fill="#fff" stroke="#eab0f4" stroke-width="0.8"/>
<circle cx="418.55" cy="296.50" r="2.6" fill="#fff" stroke="#eab0f4" stroke-width="0.8"/>
<circle cx="425.69" cy="296.50" r="2.6" fill="#fff" stroke="#eab0f4" stroke-width="0.8"/>
<circle cx="432.84" cy="296.50" r="2.6" fill="#fff" stroke="#eab0f4" stroke-width="0.8"/>
<circle cx="439.99" cy="296.50" r="2.6" fill="#fff" stroke="#eab0f4" stroke-width="0.8"/>
<circle cx="447.13" cy="296.50" r="2.6" fill="#fff" stroke="#eab0f4" stroke-width="0.8"/>
<circle cx="454.28" cy="296.50" r="2.6" fill="#fff" stroke="#eab0f4" stroke-width="0.8"/>
<circle cx="461.43" cy="296.50" r="2.6" fill="#fff" stroke="#eab0f4" stroke-width="0.8"/>
<circle cx="468.57" cy="296.50" r="2.6" fill="#fff" stroke="#eab0f4" stroke-width="0.8"/>
<circle cx="475.72" cy="296.50" r="2.6" fill="#fff" stroke="#eab0f4" stroke-width="0.8"/>
<circle cx="482.87" cy="296.50" r="2.6" fill="#fff" stroke="#eab0f4" stroke-width="0.8"/>
<circle cx="490.01" cy="296.50" r="2.6" fill="#fff" stroke="#eab0f4" stroke-width="0.8"/>
<circle cx="497.16" cy="296.50" r="2.6" fill="#fff" stroke="#eab0f4" stroke-width="0.8"/>
<circle cx="504.31" cy="296.50" r="2.6" fill="#fff" stroke="#eab0f4" stroke-width="0.8"/>
<circle cx="511.45" cy="296.50" r="2.6" fill="#fff" stroke="#eab0f4" stroke-width="0.8"/>
<circle cx="518.60" cy="296.50" r="2.6" fill="#fff" stroke="#eab0f4" stroke-width="0.8"/>
<text x="304.20" y="310.20" text-anchor="middle" fill="#222222" font-size="8.4">700</text>
<text x="375.67" y="310.20" text-anchor="middle" fill="#222222" font-size="8.4">800</text>
<text x="447.13" y="310.20" text-anchor="middle" fill="#222222" font-size="8.4">900</text>
<text x="518.60" y="310.20" text-anchor="middle" fill="#222222" font-size="8.4">1000</text>
<text x="411.40" y="319.90" text-anchor="middle" fill="#222222" font-size="8.4">Temperature (°C)</text>
<text x="297.20" y="300.40" text-anchor="end" fill="#26d826" font-size="8.4">3</text>
<text x="297.20" y="268.10" text-anchor="end" fill="#26d826" font-size="8.4">4</text>
<text x="297.20" y="235.80" text-anchor="end" fill="#26d826" font-size="8.4">5</text>
<text x="297.20" y="203.50" text-anchor="end" fill="#26d826" font-size="8.4">6</text>
<text x="297.20" y="171.20" text-anchor="end" fill="#26d826" font-size="8.4">7</text>
<text x="525.60" y="300.40" text-anchor="start" fill="#dc40e0" font-size="8.4">0</text>
<text x="525.60" y="268.10" text-anchor="start" fill="#dc40e0" font-size="8.4">0.5</text>
<text x="525.60" y="235.80" text-anchor="start" fill="#dc40e0" font-size="8.4">1</text>
<text x="525.60" y="203.50" text-anchor="start" fill="#dc40e0" font-size="8.4">1.5</text>
<text x="525.60" y="171.20" text-anchor="start" fill="#dc40e0" font-size="8.4">2</text>
<text transform="translate(289.30,232.60) rotate(-90)" text-anchor="middle" fill="#26d826" font-size="8.1">CO<tspan font-size="6" dy="1.5">2</tspan><tspan dy="-1.5"> (%)</tspan></text>
<text transform="translate(543.80,232.60) rotate(-90)" text-anchor="middle" fill="#dc40e0" font-size="8.1">CH<tspan font-size="6" dy="1.5">4</tspan><tspan dy="-1.5"> (%)</tspan></text>
<rect x="306.20" y="170.20" width="210.70" height="14.00" rx="1.5" fill="#fff" stroke="#1e1e1e" stroke-width="1.2"/>
<line x1="312.00" y1="177.20" x2="326.00" y2="177.20" stroke="#c8f4c8" stroke-width="0.8"/>
<polygon points="319.00,174.60 321.90,177.20 319.00,179.80 316.10,177.20" fill="#14dc14"/>
<text x="327.40" y="179.80" fill="#222222" font-size="7.6">CO2-PUR</text>
<line x1="363.80" y1="177.20" x2="377.80" y2="177.20" stroke="#c8f4c8" stroke-width="0.8"/>
<polygon points="370.80,174.60 373.70,177.20 370.80,179.80 367.90,177.20" fill="#fff" stroke="#c8f4c8" stroke-width="0.9"/>
<text x="379.40" y="179.80" fill="#222222" font-size="7.6">CO2-PUF</text>
<line x1="414.80" y1="177.20" x2="428.80" y2="177.20" stroke="#e2a4f0" stroke-width="0.8"/>
<circle cx="421.80" cy="177.20" r="2.6" fill="#c800ec"/>
<text x="430.80" y="179.80" fill="#222222" font-size="7.6">CH4-PUR</text>
<line x1="467.00" y1="177.20" x2="481.00" y2="177.20" stroke="#e2a4f0" stroke-width="0.8"/>
<circle cx="474.00" cy="177.20" r="2.6" fill="#fff" stroke="#eab0f4" stroke-width="0.8"/>
<text x="483.40" y="179.80" fill="#222222" font-size="7.6">CH4-PUF</text>
<rect x="307.50" y="186.80" width="18.20" height="12.80" fill="#f6f000"/>
<text x="316.60" y="196.20" text-anchor="middle" fill="#222222" font-size="8.6">(d)</text>
</svg>
</body></html>
